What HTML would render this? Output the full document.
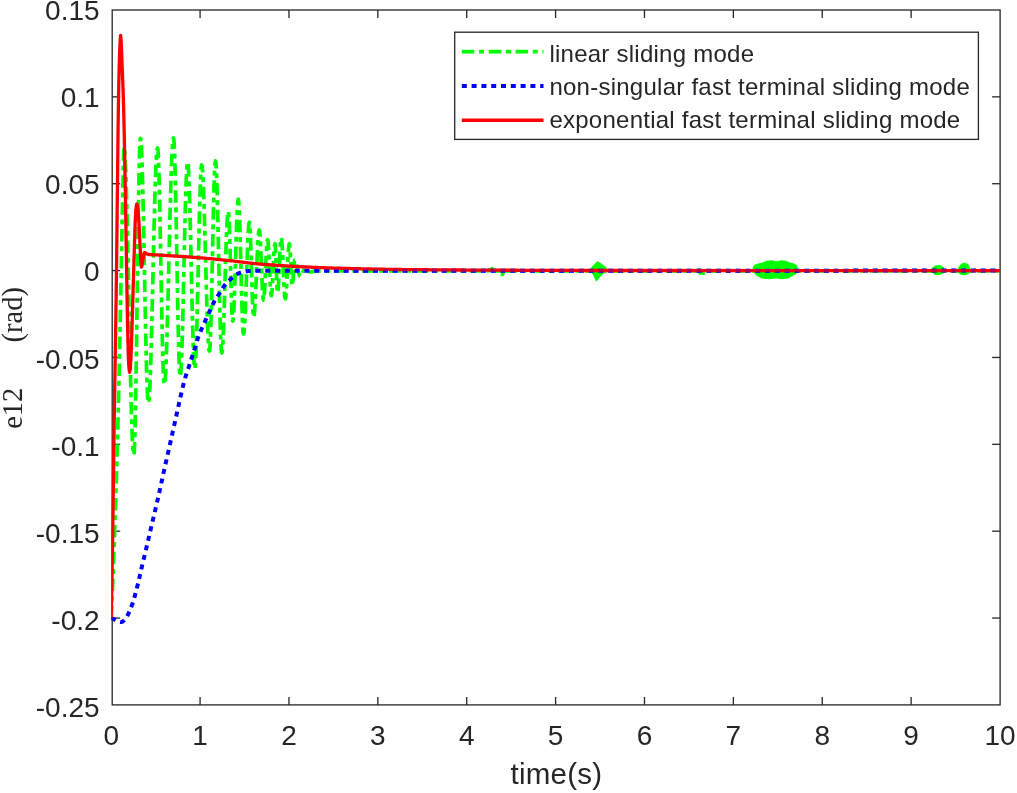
<!DOCTYPE html>
<html><head><meta charset="utf-8"><title>e12</title>
<style>
html,body{margin:0;padding:0;background:#fff;}
svg{display:block;}
.wrap{width:1017px;height:793px;}
text{font-family:"Liberation Sans",Arial,sans-serif;fill:#262626;}
.t{font-size:28px;}
.lg{font-size:24px;letter-spacing:0.25px;}
</style></head><body><div class="wrap">
<svg width="1017" height="793" viewBox="0 0 1017 793">
<rect x="0" y="0" width="1017" height="793" fill="#fff"/>

<rect x="111.2" y="10.0" width="888.8" height="694.9" fill="#fff"/>
<g stroke="#262626" stroke-width="1.3" fill="none">
<rect x="112.2" y="10.0" width="887.90" height="694.9"/>
<line x1="200.08" y1="704.9" x2="200.08" y2="696.9"/><line x1="200.08" y1="10.0" x2="200.08" y2="18.0"/>
<line x1="288.96" y1="704.9" x2="288.96" y2="696.9"/><line x1="288.96" y1="10.0" x2="288.96" y2="18.0"/>
<line x1="377.84" y1="704.9" x2="377.84" y2="696.9"/><line x1="377.84" y1="10.0" x2="377.84" y2="18.0"/>
<line x1="466.72" y1="704.9" x2="466.72" y2="696.9"/><line x1="466.72" y1="10.0" x2="466.72" y2="18.0"/>
<line x1="555.60" y1="704.9" x2="555.60" y2="696.9"/><line x1="555.60" y1="10.0" x2="555.60" y2="18.0"/>
<line x1="644.48" y1="704.9" x2="644.48" y2="696.9"/><line x1="644.48" y1="10.0" x2="644.48" y2="18.0"/>
<line x1="733.36" y1="704.9" x2="733.36" y2="696.9"/><line x1="733.36" y1="10.0" x2="733.36" y2="18.0"/>
<line x1="822.24" y1="704.9" x2="822.24" y2="696.9"/><line x1="822.24" y1="10.0" x2="822.24" y2="18.0"/>
<line x1="911.12" y1="704.9" x2="911.12" y2="696.9"/><line x1="911.12" y1="10.0" x2="911.12" y2="18.0"/>
<line x1="112.2" y1="96.86" x2="120.2" y2="96.86"/><line x1="1000.1" y1="96.86" x2="992.1" y2="96.86"/>
<line x1="112.2" y1="183.72" x2="120.2" y2="183.72"/><line x1="1000.1" y1="183.72" x2="992.1" y2="183.72"/>
<line x1="112.2" y1="270.59" x2="120.2" y2="270.59"/><line x1="1000.1" y1="270.59" x2="992.1" y2="270.59"/>
<line x1="112.2" y1="357.45" x2="120.2" y2="357.45"/><line x1="1000.1" y1="357.45" x2="992.1" y2="357.45"/>
<line x1="112.2" y1="444.31" x2="120.2" y2="444.31"/><line x1="1000.1" y1="444.31" x2="992.1" y2="444.31"/>
<line x1="112.2" y1="531.18" x2="120.2" y2="531.18"/><line x1="1000.1" y1="531.18" x2="992.1" y2="531.18"/>
<line x1="112.2" y1="618.04" x2="120.2" y2="618.04"/><line x1="1000.1" y1="618.04" x2="992.1" y2="618.04"/>
</g>
<clipPath id="cp"><rect x="111.2" y="10.0" width="888.8" height="694.9"/></clipPath>
<g clip-path="url(#cp)" fill="none" stroke-linejoin="round">
<path d="M111.20,618.00 L111.31,615.63 L111.41,613.27 L111.51,610.90 L111.62,608.53 L111.72,606.17 L111.82,603.80 L111.92,601.43 L112.02,599.07 L112.13,596.70 L112.23,594.33 L112.32,591.96 L112.42,589.60 L112.52,587.23 L112.62,584.86 L112.71,582.50 L112.81,580.13 L112.91,577.76 L113.00,575.40 L113.09,573.03 L113.19,570.66 L113.28,568.30 L113.37,565.93 L113.46,563.56 L113.55,561.20 L113.64,558.83 L113.73,556.46 L113.82,554.10 L113.91,551.73 L114.00,549.36 L114.08,546.99 L114.17,544.63 L114.26,542.26 L114.34,539.89 L114.43,537.53 L114.51,535.16 L114.59,532.79 L114.68,530.43 L114.76,528.06 L114.84,525.69 L114.92,523.33 L115.00,520.96 L115.09,518.59 L115.17,516.23 L115.24,513.86 L115.32,511.49 L115.40,509.13 L115.48,506.76 L115.56,504.39 L115.63,502.03 L115.71,499.66 L115.79,497.29 L115.86,494.92 L115.94,492.56 L116.01,490.19 L116.09,487.82 L116.16,485.46 L116.23,483.09 L116.30,480.72 L116.37,478.36 L116.45,475.99 L116.52,473.62 L116.59,471.26 L116.66,468.89 L116.73,466.52 L116.80,464.16 L116.86,461.79 L116.93,459.42 L117.00,457.06 L117.07,454.69 L117.13,452.32 L117.20,449.95 L117.27,447.59 L117.33,445.22 L117.40,442.85 L117.46,440.49 L117.53,438.12 L117.59,435.75 L117.66,433.39 L117.72,431.02 L117.78,428.65 L117.84,426.29 L117.90,423.92 L117.96,421.55 L118.02,419.19 L118.08,416.82 L118.14,414.45 L118.19,412.09 L118.25,409.72 L118.31,407.35 L118.36,404.98 L118.42,402.62 L118.47,400.25 L118.53,397.88 L118.58,395.52 L118.64,393.15 L118.69,390.78 L118.75,388.42 L118.80,386.05 L118.85,383.68 L118.91,381.32 L118.96,378.95 L119.01,376.58 L119.06,374.22 L119.12,371.85 L119.17,369.48 L119.22,367.12 L119.27,364.75 L119.32,362.38 L119.37,360.02 L119.42,357.65 L119.47,355.28 L119.53,352.91 L119.58,350.55 L119.63,348.18 L119.68,345.81 L119.73,343.45 L119.78,341.08 L119.83,338.71 L119.88,336.35 L119.93,333.98 L119.98,331.61 L120.02,329.25 L120.07,326.88 L120.12,324.51 L120.17,322.15 L120.22,319.78 L120.26,317.41 L120.31,315.05 L120.36,312.68 L120.41,310.31 L120.45,307.94 L120.50,305.58 L120.55,303.21 L120.59,300.84 L120.64,298.48 L120.68,296.11 L120.73,293.74 L120.78,291.38 L120.82,289.01 L120.87,286.64 L120.92,284.28 L120.96,281.91 L121.01,279.54 L121.06,277.18 L121.10,274.81 L121.15,272.44 L121.20,270.08 L121.25,267.71 L121.29,265.34 L121.34,262.97 L121.39,260.61 L121.43,258.24 L121.48,255.87 L121.53,253.51 L121.57,251.14 L121.62,248.77 L121.66,246.41 L121.71,244.04 L121.76,241.67 L121.80,239.31 L121.85,236.94 L121.90,234.57 L121.94,232.21 L121.99,229.84 L122.04,227.47 L122.08,225.11 L122.13,222.74 L122.18,220.37 L122.23,218.01 L122.27,215.64 L122.32,213.27 L122.37,210.90 L122.42,208.54 L122.47,206.17 L122.52,203.80 L122.57,201.44 L122.62,199.07 L122.67,196.70 L122.72,194.34 L122.77,191.97 L122.82,189.60 L122.87,187.24 L122.92,184.87 L122.98,182.50 L123.03,180.14 L123.08,177.77 L123.14,175.40 L123.20,173.04 L123.25,170.67 L123.31,168.30 L123.38,165.93 L123.44,163.57 L123.51,161.20 L123.58,158.83 L123.65,156.47 L123.73,154.10 L123.81,151.73 L123.90,149.37 L124.00,147.00 L124.25,147.50 L124.50,148.99 L124.75,151.47 L125.01,154.93 L125.26,159.32 L125.51,164.64 L125.76,170.84 L126.01,177.89 L126.26,185.73 L126.51,194.32 L126.76,203.60 L127.02,213.52 L127.27,224.00 L127.52,234.98 L127.77,246.39 L128.02,258.15 L128.27,270.20 L128.52,282.44 L128.77,294.80 L129.03,307.20 L129.28,319.56 L129.53,331.80 L129.78,343.85 L130.03,355.61 L130.28,367.02 L130.53,378.00 L130.78,388.48 L131.04,398.40 L131.29,407.68 L131.54,416.27 L131.79,424.11 L132.04,431.16 L132.29,437.36 L132.54,442.68 L132.79,447.07 L133.05,450.53 L133.30,453.01 L133.55,454.50 L133.80,455.00 L134.06,453.85 L134.32,450.40 L134.57,444.72 L134.83,436.87 L135.09,426.99 L135.35,415.20 L135.60,401.69 L135.86,386.65 L136.12,370.29 L136.38,352.87 L136.63,334.62 L136.89,315.82 L137.15,296.75 L137.41,277.68 L137.67,258.88 L137.92,240.63 L138.18,223.21 L138.44,206.85 L138.70,191.81 L138.95,178.30 L139.21,166.51 L139.47,156.63 L139.73,148.78 L139.98,143.10 L140.24,139.65 L140.50,138.50 L140.75,139.18 L141.01,141.21 L141.26,144.57 L141.52,149.22 L141.77,155.12 L142.03,162.20 L142.28,170.40 L142.54,179.63 L142.79,189.80 L143.05,200.79 L143.30,212.51 L143.56,224.82 L143.81,237.60 L144.07,250.72 L144.32,264.05 L144.58,277.45 L144.83,290.78 L145.09,303.90 L145.34,316.68 L145.60,328.99 L145.85,340.71 L146.11,351.70 L146.36,361.87 L146.62,371.10 L146.87,379.30 L147.13,386.38 L147.38,392.28 L147.64,396.93 L147.89,400.29 L148.15,402.32 L148.40,403.00 L148.65,402.51 L148.91,401.06 L149.16,398.66 L149.41,395.31 L149.66,391.05 L149.92,385.92 L150.17,379.94 L150.42,373.17 L150.68,365.66 L150.93,357.46 L151.18,348.63 L151.43,339.25 L151.69,329.38 L151.94,319.11 L152.19,308.50 L152.44,297.64 L152.70,286.61 L152.95,275.50 L153.20,264.39 L153.46,253.36 L153.71,242.50 L153.96,231.89 L154.21,221.62 L154.47,211.75 L154.72,202.37 L154.97,193.54 L155.22,185.34 L155.48,177.83 L155.73,171.06 L155.98,165.08 L156.24,159.95 L156.49,155.69 L156.74,152.34 L156.99,149.94 L157.25,148.49 L157.50,148.00 L157.75,148.80 L158.00,151.19 L158.26,155.13 L158.51,160.58 L158.76,167.45 L159.01,175.67 L159.26,185.10 L159.51,195.64 L159.77,207.12 L160.02,219.41 L160.27,232.34 L160.52,245.72 L160.77,259.37 L161.03,273.13 L161.28,286.78 L161.53,300.16 L161.78,313.09 L162.03,325.38 L162.29,336.86 L162.54,347.40 L162.79,356.83 L163.04,365.05 L163.29,371.92 L163.54,377.37 L163.80,381.31 L164.05,383.70 L164.30,384.50 L164.56,384.03 L164.81,382.63 L165.07,380.30 L165.32,377.07 L165.58,372.95 L165.83,367.99 L166.09,362.21 L166.34,355.66 L166.60,348.40 L166.86,340.47 L167.11,331.94 L167.37,322.88 L167.62,313.34 L167.88,303.40 L168.13,293.15 L168.39,282.65 L168.64,271.99 L168.90,261.25 L169.16,250.51 L169.41,239.85 L169.67,229.35 L169.92,219.10 L170.18,209.16 L170.43,199.63 L170.69,190.56 L170.94,182.03 L171.20,174.10 L171.46,166.84 L171.71,160.29 L171.97,154.51 L172.22,149.55 L172.48,145.43 L172.73,142.20 L172.99,139.87 L173.24,138.47 L173.50,138.00 L173.76,138.87 L174.02,141.47 L174.27,145.75 L174.53,151.67 L174.79,159.12 L175.05,168.00 L175.30,178.19 L175.56,189.53 L175.82,201.86 L176.08,215.00 L176.33,228.75 L176.59,242.92 L176.85,257.30 L177.11,271.68 L177.37,285.85 L177.62,299.60 L177.88,312.74 L178.14,325.07 L178.40,336.41 L178.65,346.60 L178.91,355.48 L179.17,362.93 L179.43,368.85 L179.68,373.13 L179.94,375.73 L180.20,376.60 L180.46,375.97 L180.71,374.09 L180.97,370.98 L181.22,366.68 L181.48,361.24 L181.73,354.72 L181.99,347.20 L182.24,338.76 L182.50,329.52 L182.75,319.56 L183.01,309.02 L183.26,298.01 L183.52,286.66 L183.77,275.11 L184.03,263.49 L184.28,251.94 L184.54,240.59 L184.79,229.58 L185.05,219.04 L185.30,209.08 L185.56,199.84 L185.81,191.40 L186.07,183.88 L186.32,177.36 L186.58,171.92 L186.83,167.62 L187.09,164.51 L187.34,162.63 L187.60,162.00 L187.86,162.65 L188.11,164.59 L188.37,167.80 L188.63,172.23 L188.89,177.83 L189.14,184.54 L189.40,192.26 L189.66,200.89 L189.91,210.34 L190.17,220.48 L190.43,231.18 L190.69,242.31 L190.94,253.73 L191.20,265.30 L191.46,276.87 L191.71,288.29 L191.97,299.42 L192.23,310.12 L192.49,320.26 L192.74,329.71 L193.00,338.34 L193.26,346.06 L193.51,352.77 L193.77,358.37 L194.03,362.80 L194.29,366.01 L194.54,367.95 L194.80,368.60 L195.06,367.91 L195.31,365.86 L195.57,362.46 L195.82,357.77 L196.08,351.85 L196.33,344.78 L196.59,336.66 L196.84,327.59 L197.10,317.70 L197.36,307.12 L197.61,296.00 L197.87,284.48 L198.12,272.72 L198.38,260.88 L198.63,249.12 L198.89,237.60 L199.14,226.48 L199.40,215.90 L199.66,206.01 L199.91,196.94 L200.17,188.82 L200.42,181.75 L200.68,175.83 L200.93,171.14 L201.19,167.74 L201.44,165.69 L201.70,165.00 L201.96,165.51 L202.21,167.03 L202.47,169.55 L202.73,173.04 L202.98,177.46 L203.24,182.76 L203.50,188.89 L203.75,195.77 L204.01,203.34 L204.27,211.50 L204.52,220.17 L204.78,229.26 L205.04,238.66 L205.29,248.28 L205.55,258.00 L205.81,267.72 L206.06,277.34 L206.32,286.74 L206.58,295.83 L206.83,304.50 L207.09,312.66 L207.35,320.23 L207.60,327.11 L207.86,333.24 L208.12,338.54 L208.37,342.96 L208.63,346.45 L208.89,348.97 L209.14,350.49 L209.40,351.00 L209.65,350.19 L209.91,347.76 L210.16,343.77 L210.42,338.27 L210.67,331.37 L210.93,323.18 L211.18,313.83 L211.43,303.50 L211.69,292.35 L211.94,280.59 L212.20,268.40 L212.45,256.00 L212.70,243.60 L212.96,231.41 L213.21,219.65 L213.47,208.50 L213.72,198.17 L213.97,188.82 L214.23,180.63 L214.48,173.73 L214.74,168.23 L214.99,164.24 L215.25,161.81 L215.50,161.00 L215.75,161.76 L216.00,164.02 L216.26,167.74 L216.51,172.87 L216.76,179.33 L217.01,187.02 L217.26,195.81 L217.52,205.56 L217.77,216.13 L218.02,227.33 L218.27,239.01 L218.52,250.97 L218.78,263.03 L219.03,274.99 L219.28,286.67 L219.53,297.87 L219.78,308.44 L220.04,318.19 L220.29,326.98 L220.54,334.67 L220.79,341.13 L221.04,346.26 L221.30,349.98 L221.55,352.24 L221.80,353.00 L222.06,352.44 L222.31,350.77 L222.57,348.02 L222.82,344.24 L223.08,339.47 L223.34,333.80 L223.59,327.31 L223.85,320.11 L224.10,312.32 L224.36,304.04 L224.62,295.43 L224.87,286.60 L225.13,277.70 L225.38,268.87 L225.64,260.26 L225.90,251.98 L226.15,244.19 L226.41,236.99 L226.66,230.50 L226.92,224.83 L227.18,220.06 L227.43,216.28 L227.69,213.53 L227.94,211.86 L228.20,211.30 L228.46,212.13 L228.71,214.61 L228.97,218.65 L229.22,224.13 L229.48,230.89 L229.73,238.72 L229.99,247.39 L230.24,256.63 L230.50,266.15 L230.76,275.67 L231.01,284.91 L231.27,293.57 L231.52,301.41 L231.78,308.17 L232.03,313.65 L232.29,317.69 L232.54,320.17 L232.80,321.00 L233.05,320.38 L233.30,318.53 L233.55,315.50 L233.80,311.33 L234.05,306.13 L234.30,299.98 L234.55,293.03 L234.80,285.40 L235.05,277.26 L235.30,268.77 L235.55,260.10 L235.80,251.43 L236.05,242.94 L236.30,234.80 L236.55,227.17 L236.80,220.22 L237.05,214.07 L237.30,208.87 L237.55,204.70 L237.80,201.67 L238.05,199.82 L238.30,199.20 L238.56,200.03 L238.82,202.50 L239.08,206.55 L239.34,212.07 L239.60,218.94 L239.86,226.98 L240.12,236.00 L240.38,245.77 L240.64,256.06 L240.90,266.60 L241.16,277.14 L241.42,287.43 L241.68,297.20 L241.94,306.22 L242.20,314.26 L242.46,321.13 L242.72,326.65 L242.98,330.70 L243.24,333.17 L243.50,334.00 L243.76,333.48 L244.01,331.93 L244.27,329.38 L244.53,325.87 L244.78,321.47 L245.04,316.27 L245.30,310.36 L245.55,303.84 L245.81,296.85 L246.07,289.51 L246.32,281.96 L246.58,274.34 L246.83,266.79 L247.09,259.45 L247.35,252.46 L247.60,245.94 L247.86,240.03 L248.12,234.83 L248.37,230.43 L248.63,226.92 L248.89,224.37 L249.14,222.82 L249.40,222.30 L249.66,223.21 L249.93,225.92 L250.19,230.31 L250.45,236.23 L250.71,243.43 L250.97,251.65 L251.24,260.57 L251.50,269.85 L251.76,279.13 L252.03,288.05 L252.29,296.27 L252.55,303.47 L252.81,309.39 L253.07,313.78 L253.34,316.49 L253.60,317.40 L253.86,316.96 L254.12,315.63 L254.38,313.45 L254.64,310.46 L254.90,306.73 L255.15,302.32 L255.41,297.33 L255.67,291.85 L255.93,286.01 L256.19,279.92 L256.45,273.70 L256.71,267.48 L256.97,261.39 L257.23,255.55 L257.49,250.07 L257.75,245.08 L258.00,240.67 L258.26,236.94 L258.52,233.95 L258.78,231.77 L259.04,230.44 L259.30,230.00 L259.56,230.67 L259.82,232.66 L260.09,235.90 L260.35,240.25 L260.61,245.56 L260.88,251.61 L261.14,258.17 L261.40,265.00 L261.66,271.83 L261.93,278.39 L262.19,284.44 L262.45,289.75 L262.71,294.10 L262.98,297.34 L263.24,299.33 L263.50,300.00 L263.76,299.42 L264.01,297.70 L264.27,294.91 L264.52,291.15 L264.78,286.58 L265.04,281.36 L265.29,275.69 L265.55,269.80 L265.81,263.91 L266.06,258.24 L266.32,253.02 L266.58,248.45 L266.83,244.69 L267.09,241.90 L267.34,240.18 L267.60,239.60 L267.86,240.30 L268.13,242.38 L268.39,245.72 L268.66,250.16 L268.92,255.48 L269.19,261.41 L269.45,267.65 L269.71,273.89 L269.98,279.82 L270.24,285.14 L270.51,289.58 L270.77,292.92 L271.04,295.00 L271.30,295.70 L271.56,295.05 L271.83,293.13 L272.09,290.03 L272.36,285.91 L272.62,280.98 L272.89,275.49 L273.15,269.70 L273.41,263.91 L273.68,258.42 L273.94,253.49 L274.21,249.37 L274.47,246.27 L274.74,244.35 L275.00,243.70 L275.25,244.90 L275.50,248.38 L275.75,253.80 L276.00,260.63 L276.25,268.20 L276.50,275.77 L276.75,282.60 L277.00,288.02 L277.25,291.50 L277.50,292.70 L277.76,292.01 L278.03,289.98 L278.29,286.70 L278.56,282.35 L278.82,277.13 L279.09,271.32 L279.35,265.20 L279.61,259.08 L279.88,253.27 L280.14,248.05 L280.41,243.70 L280.67,240.42 L280.94,238.39 L281.20,237.70 L281.46,238.29 L281.71,240.02 L281.97,242.84 L282.23,246.63 L282.48,251.26 L282.74,256.53 L282.99,262.25 L283.25,268.20 L283.51,274.15 L283.76,279.87 L284.02,285.14 L284.27,289.77 L284.53,293.56 L284.79,296.38 L285.04,298.11 L285.30,298.70 L285.55,298.17 L285.80,296.61 L286.05,294.07 L286.30,290.65 L286.55,286.48 L286.80,281.72 L287.05,276.56 L287.30,271.20 L287.55,265.84 L287.80,260.68 L288.05,255.92 L288.30,251.75 L288.55,248.33 L288.80,245.79 L289.05,244.23 L289.30,243.70 L289.55,244.41 L289.80,246.51 L290.05,249.84 L290.30,254.17 L290.55,259.23 L290.80,264.65 L291.05,270.07 L291.30,275.12 L291.55,279.46 L291.80,282.79 L292.05,284.89 L292.30,285.60 L292.56,284.84 L292.81,282.65 L293.07,279.30 L293.32,275.19 L293.58,270.81 L293.83,266.70 L294.09,263.35 L294.34,261.16 L294.60,260.40 L294.85,260.47 L295.10,260.70 L295.36,261.07 L295.61,261.57 L295.86,262.21 L296.11,262.96 L296.37,263.81 L296.62,264.75 L296.87,265.75 L297.12,266.81 L297.37,267.90 L297.63,269.00 L297.88,270.09 L298.13,271.15 L298.38,272.15 L298.63,273.09 L298.89,273.94 L299.14,274.69 L299.39,275.33 L299.64,275.83 L299.90,276.20 L300.15,276.43 L300.40,276.50 L300.66,276.44 L300.91,276.26 L301.17,275.96 L301.42,275.56 L301.68,275.07 L301.93,274.50 L302.19,273.87 L302.44,273.19 L302.70,272.50 L302.96,271.81 L303.21,271.13 L303.47,270.50 L303.72,269.93 L303.98,269.44 L304.23,269.04 L304.49,268.74 L304.74,268.56 L305.00,268.50 L305.25,268.52 L305.50,268.59 L305.75,268.69 L306.00,268.83 L306.25,269.01 L306.50,269.22 L306.75,269.46 L307.00,269.71 L307.25,269.98 L307.50,270.25 L307.75,270.52 L308.00,270.79 L308.25,271.04 L308.50,271.28 L308.75,271.49 L309.00,271.67 L309.25,271.81 L309.50,271.91 L309.75,271.98 L310.00,272.00 L310.25,272.00 L310.50,271.98 L310.75,271.96 L311.00,271.93 L311.25,271.89 L311.50,271.84 L311.75,271.78 L312.00,271.73 L312.25,271.66 L312.50,271.59 L312.75,271.52 L313.00,271.45 L313.25,271.38 L313.50,271.31 L313.75,271.24 L314.00,271.18 L314.25,271.12 L314.50,271.06 L314.75,271.01 L315.00,270.97 L315.25,270.94 L315.50,270.92 L315.75,270.90 L316.00,270.90 L316.25,270.90 L316.50,270.90 L316.75,270.90 L317.00,270.90 L317.25,270.90 L317.50,270.90 L317.75,270.90 L318.00,270.90 L318.25,270.90 L318.50,270.90 L318.75,270.90 L319.00,270.90 L319.25,270.90 L319.50,270.90 L319.75,270.90 L320.00,270.90 L320.25,270.90 L320.50,270.90 L320.75,270.90 L321.00,270.90 L321.25,270.90 L321.50,270.90 L321.75,270.90 L322.00,270.90 L322.25,270.90 L322.50,270.90 L322.75,270.90 L323.00,270.90 L323.25,270.90 L323.50,270.90 L323.75,270.90 L324.00,270.90 L324.25,270.90 L324.50,270.90 L324.75,270.90 L325.00,270.90 L325.25,270.90 L325.50,270.90 L325.75,270.90 L326.00,270.90 L326.25,270.90 L326.50,270.90 L326.75,270.90 L327.00,270.90 L327.25,270.90 L327.50,270.90 L327.75,270.90 L328.00,270.90 L328.25,270.90 L328.50,270.90 L328.75,270.90 L329.00,270.90 L329.25,270.90 L329.50,270.90 L329.75,270.90 L330.00,270.90 L330.25,270.90 L330.50,270.90 L330.75,270.90 L331.00,270.90 L331.25,270.90 L331.50,270.90 L331.75,270.90 L332.00,270.90 L332.25,270.90 L332.50,270.90 L332.75,270.90 L333.00,270.90 L333.25,270.90 L333.50,270.90 L333.75,270.90 L334.00,270.90 L334.25,270.90 L334.50,270.90 L334.75,270.90 L335.00,270.90 L335.25,270.90 L335.50,270.90 L335.75,270.90 L336.00,270.90 L336.25,270.90 L336.50,270.90 L336.75,270.90 L337.00,270.90 L337.25,270.90 L337.50,270.90 L337.75,270.90 L338.00,270.90 L338.25,270.90 L338.50,270.90 L338.75,270.90 L339.00,270.90 L339.25,270.90 L339.50,270.90 L339.75,270.90 L340.00,270.90 L340.25,270.90 L340.50,270.90 L340.75,270.90 L341.00,270.90 L341.25,270.90 L341.50,270.90 L341.75,270.90 L342.00,270.90 L342.25,270.90 L342.50,270.90 L342.75,270.90 L343.00,270.90 L343.25,270.90 L343.50,270.90 L343.75,270.90 L344.00,270.90 L344.25,270.90 L344.50,270.90 L344.75,270.90 L345.00,270.90 L345.25,270.90 L345.50,270.90 L345.75,270.90 L346.00,270.90 L346.25,270.90 L346.50,270.90 L346.75,270.90 L347.00,270.90 L347.25,270.90 L347.50,270.90 L347.75,270.90 L348.00,270.90 L348.25,270.90 L348.50,270.90 L348.75,270.90 L349.00,270.90 L349.25,270.90 L349.50,270.90 L349.75,270.90 L350.00,270.90 L350.25,270.90 L350.50,270.90 L350.75,270.90 L351.00,270.90 L351.25,270.90 L351.50,270.90 L351.75,270.90 L352.00,270.90 L352.25,270.90 L352.50,270.90 L352.75,270.90 L353.00,270.90 L353.25,270.90 L353.50,270.90 L353.75,270.90 L354.00,270.90 L354.25,270.90 L354.50,270.90 L354.75,270.90 L355.00,270.90 L355.25,270.90 L355.50,270.90 L355.75,270.90 L356.00,270.90 L356.25,270.90 L356.50,270.90 L356.75,270.90 L357.00,270.90 L357.25,270.90 L357.50,270.90 L357.75,270.90 L358.00,270.90 L358.25,270.90 L358.50,270.90 L358.75,270.90 L359.00,270.90 L359.25,270.90 L359.50,270.90 L359.75,270.90 L360.00,270.90 L360.25,270.90 L360.50,270.90 L360.75,270.90 L361.00,270.90 L361.25,270.90 L361.50,270.90 L361.75,270.90 L362.00,270.90 L362.25,270.90 L362.50,270.90 L362.75,270.90 L363.00,270.90 L363.25,270.90 L363.50,270.90 L363.75,270.90 L364.00,270.90 L364.25,270.90 L364.50,270.90 L364.75,270.90 L365.00,270.90 L365.25,270.90 L365.50,270.90 L365.75,270.90 L366.00,270.90 L366.25,270.90 L366.50,270.90 L366.75,270.90 L367.00,270.90 L367.25,270.90 L367.50,270.90 L367.75,270.90 L368.00,270.90 L368.25,270.90 L368.50,270.90 L368.75,270.90 L369.00,270.90 L369.25,270.90 L369.50,270.90 L369.75,270.90 L370.00,270.90 L370.25,270.90 L370.50,270.90 L370.75,270.90 L371.00,270.90 L371.25,270.90 L371.50,270.90 L371.75,270.90 L372.00,270.90 L372.25,270.90 L372.50,270.90 L372.75,270.90 L373.00,270.90 L373.25,270.90 L373.50,270.90 L373.75,270.90 L374.00,270.90 L374.25,270.90 L374.50,270.90 L374.75,270.90 L375.00,270.90 L375.25,270.90 L375.50,270.90 L375.75,270.90 L376.00,270.90 L376.25,270.90 L376.50,270.90 L376.75,270.90 L377.00,270.90 L377.25,270.90 L377.50,270.90 L377.75,270.90 L378.00,270.90 L378.25,270.90 L378.50,270.90 L378.75,270.90 L379.00,270.90 L379.25,270.90 L379.50,270.90 L379.75,270.90 L380.00,270.90 L380.25,270.90 L380.50,270.90 L380.75,270.90 L381.00,270.90 L381.25,270.90 L381.50,270.90 L381.75,270.90 L382.00,270.90 L382.25,270.90 L382.50,270.90 L382.75,270.90 L383.00,270.90 L383.25,270.90 L383.50,270.90 L383.75,270.90 L384.00,270.90 L384.25,270.90 L384.50,270.90 L384.75,270.90 L385.00,270.90 L385.25,270.90 L385.50,270.90 L385.75,270.90 L386.00,270.90 L386.25,270.90 L386.50,270.90 L386.75,270.90 L387.00,270.90 L387.25,270.90 L387.50,270.90 L387.75,270.90 L388.00,270.90 L388.25,270.90 L388.50,270.90 L388.75,270.90 L389.00,270.90 L389.25,270.90 L389.50,270.90 L389.75,270.90 L390.00,270.90 L390.25,270.90 L390.50,270.90 L390.75,270.90 L391.00,270.90 L391.25,270.90 L391.50,270.90 L391.75,270.90 L392.00,270.90 L392.25,270.90 L392.50,270.90 L392.75,270.90 L393.00,270.90 L393.25,270.90 L393.50,270.90 L393.75,270.90 L394.00,270.90 L394.25,270.90 L394.50,270.90 L394.75,270.90 L395.00,270.90 L395.25,270.90 L395.50,270.90 L395.75,270.90 L396.00,270.90 L396.25,270.90 L396.50,270.90 L396.75,270.90 L397.00,270.90 L397.25,270.90 L397.50,270.90 L397.75,270.90 L398.00,270.90 L398.25,270.90 L398.50,270.90 L398.75,270.90 L399.00,270.90 L399.25,270.90 L399.50,270.90 L399.75,270.90 L400.00,270.90 L400.25,270.90 L400.50,270.90 L400.75,270.90 L401.00,270.90 L401.25,270.90 L401.50,270.90 L401.75,270.90 L402.00,270.90 L402.25,270.90 L402.50,270.90 L402.75,270.90 L403.00,270.90 L403.25,270.90 L403.50,270.90 L403.75,270.90 L404.00,270.90 L404.25,270.90 L404.50,270.90 L404.75,270.90 L405.00,270.90 L405.25,270.90 L405.50,270.90 L405.75,270.90 L406.00,270.90 L406.25,270.90 L406.50,270.90 L406.75,270.90 L407.00,270.90 L407.25,270.90 L407.50,270.90 L407.75,270.90 L408.00,270.90 L408.25,270.90 L408.50,270.90 L408.75,270.90 L409.00,270.90 L409.25,270.90 L409.50,270.90 L409.75,270.90 L410.00,270.90 L410.25,270.90 L410.50,270.90 L410.75,270.90 L411.00,270.90 L411.25,270.90 L411.50,270.90 L411.75,270.90 L412.00,270.90 L412.25,270.90 L412.50,270.90 L412.75,270.90 L413.00,270.90 L413.25,270.90 L413.50,270.90 L413.75,270.90 L414.00,270.90 L414.25,270.90 L414.50,270.90 L414.75,270.90 L415.00,270.90 L415.25,270.90 L415.50,270.90 L415.75,270.90 L416.00,270.90 L416.25,270.90 L416.50,270.90 L416.75,270.90 L417.00,270.90 L417.25,270.90 L417.50,270.90 L417.75,270.90 L418.00,270.90 L418.25,270.90 L418.50,270.90 L418.75,270.90 L419.00,270.90 L419.25,270.90 L419.50,270.90 L419.75,270.90 L420.00,270.90 L420.25,270.90 L420.50,270.90 L420.75,270.90 L421.00,270.90 L421.25,270.90 L421.50,270.90 L421.75,270.90 L422.00,270.90 L422.25,270.90 L422.50,270.90 L422.75,270.90 L423.00,270.90 L423.25,270.90 L423.50,270.90 L423.75,270.90 L424.00,270.90 L424.25,270.90 L424.50,270.90 L424.75,270.90 L425.00,270.90 L425.25,270.90 L425.50,270.90 L425.75,270.90 L426.00,270.90 L426.25,270.90 L426.50,270.90 L426.75,270.90 L427.00,270.90 L427.25,270.90 L427.50,270.90 L427.75,270.90 L428.00,270.90 L428.25,270.90 L428.50,270.90 L428.75,270.90 L429.00,270.90 L429.25,270.90 L429.50,270.90 L429.75,270.90 L430.00,270.90 L430.25,270.90 L430.50,270.90 L430.75,270.90 L431.00,270.90 L431.25,270.90 L431.50,270.90 L431.75,270.90 L432.00,270.90 L432.25,270.90 L432.50,270.90 L432.75,270.90 L433.00,270.90 L433.25,270.90 L433.50,270.90 L433.75,270.90 L434.00,270.90 L434.25,270.90 L434.50,270.90 L434.75,270.90 L435.00,270.90 L435.25,270.90 L435.50,270.90 L435.75,270.90 L436.00,270.90 L436.25,270.90 L436.50,270.90 L436.75,270.90 L437.00,270.90 L437.25,270.90 L437.50,270.90 L437.75,270.90 L438.00,270.90 L438.25,270.90 L438.50,270.90 L438.75,270.90 L439.00,270.90 L439.25,270.90 L439.50,270.90 L439.75,270.90 L440.00,270.90 L440.25,270.90 L440.50,270.90 L440.75,270.90 L441.00,270.90 L441.25,270.90 L441.50,270.90 L441.75,270.90 L442.00,270.90 L442.25,270.90 L442.50,270.90 L442.75,270.90 L443.00,270.90 L443.25,270.90 L443.50,270.90 L443.75,270.90 L444.00,270.90 L444.25,270.90 L444.50,270.90 L444.75,270.90 L445.00,270.90 L445.25,270.90 L445.50,270.90 L445.75,270.90 L446.00,270.90 L446.25,270.90 L446.50,270.90 L446.75,270.90 L447.00,270.90 L447.25,270.90 L447.50,270.90 L447.75,270.90 L448.00,270.90 L448.25,270.90 L448.50,270.90 L448.75,270.90 L449.00,270.90 L449.25,270.90 L449.50,270.90 L449.75,270.90 L450.00,270.90 L450.25,270.90 L450.50,270.90 L450.75,270.90 L451.00,270.90 L451.25,270.90 L451.50,270.90 L451.75,270.90 L452.00,270.90 L452.25,270.90 L452.50,270.90 L452.75,270.90 L453.00,270.90 L453.25,270.90 L453.50,270.90 L453.75,270.90 L454.00,270.90 L454.25,270.90 L454.50,270.90 L454.75,270.90 L455.00,270.90 L455.25,270.90 L455.50,270.90 L455.75,270.90 L456.00,270.90 L456.25,270.90 L456.50,270.90 L456.75,270.90 L457.00,270.90 L457.25,270.90 L457.50,270.90 L457.75,270.90 L458.00,270.90 L458.25,270.90 L458.50,270.90 L458.75,270.90 L459.00,270.90 L459.25,270.90 L459.50,270.90 L459.75,270.90 L460.00,270.90 L460.25,270.90 L460.50,270.90 L460.75,270.90 L461.00,270.90 L461.25,270.90 L461.50,270.90 L461.75,270.90 L462.00,270.90 L462.25,270.90 L462.50,270.90 L462.75,270.90 L463.00,270.90 L463.25,270.90 L463.50,270.90 L463.75,270.90 L464.00,270.90 L464.25,270.90 L464.50,270.90 L464.75,270.90 L465.00,270.90 L465.25,270.90 L465.50,270.90 L465.75,270.90 L466.00,270.90 L466.25,270.90 L466.50,270.90 L466.75,270.90 L467.00,270.90 L467.25,270.90 L467.50,270.90 L467.75,270.90 L468.00,270.90 L468.25,270.90 L468.50,270.90 L468.75,270.90 L469.00,270.90 L469.25,270.90 L469.50,270.90 L469.75,270.90 L470.00,270.90 L470.25,270.90 L470.50,270.90 L470.75,270.90 L471.00,270.90 L471.25,270.90 L471.50,270.90 L471.75,270.90 L472.00,270.90 L472.25,270.90 L472.50,270.90 L472.75,270.90 L473.00,270.90 L473.25,270.90 L473.50,270.90 L473.75,270.90 L474.00,270.90 L474.25,270.90 L474.50,270.90 L474.75,270.90 L475.00,270.90 L475.25,270.90 L475.50,270.90 L475.75,270.90 L476.00,270.90 L476.25,270.90 L476.50,270.90 L476.75,270.90 L477.00,270.90 L477.25,270.90 L477.50,270.90 L477.75,270.90 L478.00,270.90 L478.25,270.90 L478.50,270.90 L478.75,270.90 L479.00,270.90 L479.25,270.90 L479.50,270.90 L479.75,270.90 L480.00,270.90 L480.25,270.90 L480.50,270.90 L480.75,270.90 L481.00,270.90 L481.25,270.90 L481.50,270.90 L481.75,270.90 L482.00,270.90 L482.25,270.90 L482.50,270.90 L482.75,270.90 L483.00,270.90 L483.25,270.90 L483.50,270.90 L483.75,270.90 L484.00,270.90 L484.25,270.90 L484.50,270.90 L484.75,270.90 L485.00,270.90 L485.25,270.90 L485.50,270.90 L485.75,270.90 L486.00,270.90 L486.25,270.90 L486.50,270.90 L486.75,270.90 L487.00,270.90 L487.25,270.90 L487.50,270.90 L487.75,270.90 L488.00,270.90 L488.25,270.77 L488.50,270.45 L488.75,270.14 L489.00,270.01 L489.25,270.25 L489.50,270.92 L489.75,271.84 L490.00,272.76 L490.25,273.44 L490.50,273.68 L490.75,273.35 L491.00,272.43 L491.25,271.18 L491.50,269.93 L491.75,269.02 L492.00,268.68 L492.25,268.77 L492.50,269.01 L492.75,269.37 L493.00,269.79 L493.25,270.22 L493.50,270.58 L493.75,270.82 L494.00,270.90 L494.25,270.90 L494.50,270.90 L494.75,270.90 L495.00,270.90 L495.25,270.90 L495.50,270.90 L495.75,270.90 L496.00,270.90 L496.25,270.90 L496.50,270.90 L496.75,270.90 L497.00,270.90 L497.25,270.90 L497.50,270.90 L497.75,270.90 L498.00,270.90 L498.25,270.90 L498.50,270.90 L498.75,270.90 L499.00,270.90 L499.25,270.90 L499.50,270.90 L499.75,270.90 L500.00,270.90 L500.25,270.73 L500.50,270.30 L500.75,269.88 L501.00,269.71 L501.25,270.04 L501.50,270.93 L501.75,272.16 L502.00,273.38 L502.25,274.28 L502.50,274.61 L502.75,274.16 L503.00,272.94 L503.25,271.28 L503.50,269.61 L503.75,268.39 L504.00,267.94 L504.25,268.06 L504.50,268.38 L504.75,268.86 L505.00,269.42 L505.25,269.99 L505.50,270.47 L505.75,270.79 L506.00,270.90 L506.25,270.90 L506.50,270.90 L506.75,270.90 L507.00,270.90 L507.25,270.90 L507.50,270.90 L507.75,270.90 L508.00,270.90 L508.25,270.90 L508.50,270.90 L508.75,270.90 L509.00,270.90 L509.25,270.90 L509.50,270.90 L509.75,270.90 L510.00,270.90 L510.25,270.90 L510.50,270.90 L510.75,270.90 L511.00,270.90 L511.25,270.90 L511.50,270.90 L511.75,270.90 L512.00,270.90 L512.25,270.90 L512.50,270.90 L512.75,270.90 L513.00,270.90 L513.25,270.90 L513.50,270.90 L513.75,270.90 L514.00,270.90 L514.25,270.90 L514.50,270.90 L514.75,270.90 L515.00,270.90 L515.25,270.90 L515.50,270.90 L515.75,270.90 L516.00,270.90 L516.25,270.90 L516.50,270.90 L516.75,270.90 L517.00,270.90 L517.25,270.90 L517.50,270.90 L517.75,270.90 L518.00,270.90 L518.25,270.90 L518.50,270.90 L518.75,270.90 L519.00,270.90 L519.25,270.90 L519.50,270.90 L519.75,270.90 L520.00,270.90 L520.25,270.90 L520.50,270.90 L520.75,270.90 L521.00,270.90 L521.25,270.90 L521.50,270.90 L521.75,270.90 L522.00,270.90 L522.25,270.90 L522.50,270.90 L522.75,270.90 L523.00,270.90 L523.25,270.90 L523.50,270.90 L523.75,270.90 L524.00,270.90 L524.25,270.90 L524.50,270.90 L524.75,270.90 L525.00,270.90 L525.25,270.90 L525.50,270.90 L525.75,270.90 L526.00,270.90 L526.25,270.90 L526.50,270.90 L526.75,270.90 L527.00,270.90 L527.25,270.90 L527.50,270.90 L527.75,270.90 L528.00,270.90 L528.25,270.90 L528.50,270.90 L528.75,270.90 L529.00,270.90 L529.25,270.90 L529.50,270.90 L529.75,270.90 L530.00,270.90 L530.25,270.90 L530.50,270.90 L530.75,270.90 L531.00,270.90 L531.25,270.90 L531.50,270.90 L531.75,270.90 L532.00,270.90 L532.25,270.90 L532.50,270.90 L532.75,270.90 L533.00,270.90 L533.25,270.90 L533.50,270.90 L533.75,270.90 L534.00,270.90 L534.25,270.90 L534.50,270.90 L534.75,270.90 L535.00,270.90 L535.25,270.90 L535.50,270.90 L535.75,270.90 L536.00,270.90 L536.25,270.90 L536.50,270.90 L536.75,270.90 L537.00,270.90 L537.25,270.90 L537.50,270.90 L537.75,270.90 L538.00,270.90 L538.25,270.90 L538.50,270.90 L538.75,270.90 L539.00,270.90 L539.25,270.90 L539.50,270.90 L539.75,270.90 L540.00,270.90 L540.25,270.90 L540.50,270.90 L540.75,270.90 L541.00,270.90 L541.25,270.90 L541.50,270.90 L541.75,270.90 L542.00,270.90 L542.25,270.90 L542.50,270.90 L542.75,270.90 L543.00,270.90 L543.25,270.90 L543.50,270.90 L543.75,270.90 L544.00,270.90 L544.25,270.90 L544.50,270.90 L544.75,270.90 L545.00,270.90 L545.25,270.90 L545.50,270.90 L545.75,270.90 L546.00,270.90 L546.25,270.90 L546.50,270.90 L546.75,270.90 L547.00,270.90 L547.25,270.90 L547.50,270.90 L547.75,270.90 L548.00,270.90 L548.25,270.90 L548.50,270.90 L548.75,270.90 L549.00,270.90 L549.25,270.90 L549.50,270.90 L549.75,270.90 L550.00,270.90 L550.25,270.90 L550.50,270.90 L550.75,270.90 L551.00,270.90 L551.25,270.90 L551.50,270.90 L551.75,270.90 L552.00,270.90 L552.25,270.90 L552.50,270.90 L552.75,270.90 L553.00,270.90 L553.25,270.90 L553.50,270.90 L553.75,270.90 L554.00,270.90 L554.25,270.90 L554.50,270.90 L554.75,270.90 L555.00,270.90 L555.25,270.90 L555.50,270.90 L555.75,270.90 L556.00,270.90 L556.25,270.90 L556.50,270.90 L556.75,270.90 L557.00,270.90 L557.25,270.90 L557.50,270.90 L557.75,270.90 L558.00,270.90 L558.25,270.90 L558.50,270.90 L558.75,270.90 L559.00,270.90 L559.25,270.90 L559.50,270.90 L559.75,270.90 L560.00,270.90 L560.25,270.90 L560.50,270.90 L560.75,270.90 L561.00,270.90 L561.25,270.90 L561.50,270.90 L561.75,270.90 L562.00,270.90 L562.25,270.90 L562.50,270.90 L562.75,270.90 L563.00,270.90 L563.25,270.90 L563.50,270.90 L563.75,270.90 L564.00,270.90 L564.25,270.90 L564.50,270.90 L564.75,270.90 L565.00,270.90 L565.25,270.90 L565.50,270.90 L565.75,270.90 L566.00,270.90 L566.25,270.90 L566.50,270.90 L566.75,270.90 L567.00,270.90 L567.25,270.90 L567.50,270.90 L567.75,270.90 L568.00,270.90 L568.25,270.90 L568.50,270.90 L568.75,270.90 L569.00,270.90 L569.25,270.90 L569.50,270.90 L569.75,270.90 L570.00,270.90 L570.25,270.90 L570.50,270.90 L570.75,270.90 L571.00,270.90 L571.25,270.90 L571.50,270.90 L571.75,270.90 L572.00,270.90 L572.25,270.90 L572.50,270.90 L572.75,270.90 L573.00,270.90 L573.25,270.90 L573.50,270.90 L573.75,270.90 L574.00,270.90 L574.25,270.90 L574.50,270.90 L574.75,270.90 L575.00,270.90 L575.25,270.90 L575.50,270.90 L575.75,270.90 L576.00,270.90 L576.25,270.90 L576.50,270.90 L576.75,270.90 L577.00,270.90 L577.25,270.90 L577.50,270.90 L577.75,270.90 L578.00,270.90 L578.25,270.90 L578.50,270.90 L578.75,270.90 L579.00,270.90 L579.25,270.90 L579.50,270.90 L579.75,270.90 L580.00,270.90 L580.25,270.90 L580.50,270.90 L580.75,270.90 L581.00,270.90 L581.25,270.90 L581.50,270.90 L581.75,270.90 L582.00,270.90 L582.25,270.90 L582.50,270.90 L582.75,270.90 L583.00,270.90 L583.25,270.90 L583.50,270.90 L583.75,270.90 L584.00,270.90 L584.25,270.90 L584.50,270.90 L584.75,270.90 L585.00,270.90 L585.25,270.90 L585.50,270.90 L585.75,270.90 L586.00,270.90 L586.25,270.90 L586.50,270.90 L586.75,270.90 L587.00,270.90 L587.25,270.90 L587.50,270.90 L587.75,270.90 L588.00,270.90 L588.25,270.90 L588.50,270.90 L588.75,270.90 L589.00,270.90 L589.25,270.90 L589.50,270.90 L589.75,270.90 L590.00,270.90 L590.25,270.90 L590.50,270.90 L590.75,270.90 L591.00,270.90 L591.25,270.90 L591.50,270.90 L591.75,270.90 L592.00,270.90 L592.25,270.90 L592.50,270.90 L592.75,270.90 L593.00,270.90 L593.25,270.90 L593.50,270.90 L593.75,270.90 L594.00,270.90 L594.25,270.90 L594.50,270.90 L594.75,270.90 L595.00,270.90 L595.25,270.90 L595.50,270.90 L595.75,270.90 L596.00,270.90 L596.25,270.90 L596.50,270.90 L596.75,270.90 L597.00,270.90 L597.25,270.90 L597.50,270.90 L597.75,270.90 L598.00,270.90 L598.25,270.90 L598.50,270.90 L598.75,270.90 L599.00,270.90 L599.25,270.90 L599.50,270.90 L599.75,270.90 L600.00,270.90 L600.25,270.90 L600.50,270.90 L600.75,270.90 L601.00,270.90 L601.25,270.90 L601.50,270.90 L601.75,270.90 L602.00,270.90 L602.25,270.90 L602.50,270.90 L602.75,270.90 L603.00,270.90 L603.25,270.90 L603.50,270.90 L603.75,270.90 L604.00,270.90 L604.25,270.90 L604.50,270.90 L604.75,270.90 L605.00,270.90 L605.25,270.90 L605.50,270.90 L605.75,270.90 L606.00,270.90 L606.25,270.90 L606.50,270.90 L606.75,270.90 L607.00,270.90 L607.25,270.90 L607.50,270.90 L607.75,270.90 L608.00,270.90 L608.25,270.90 L608.50,270.90 L608.75,270.90 L609.00,270.90 L609.25,270.90 L609.50,270.90 L609.75,270.90 L610.00,270.90 L610.25,270.90 L610.50,270.90 L610.75,270.90 L611.00,270.90 L611.25,270.90 L611.50,270.90 L611.75,270.90 L612.00,270.90 L612.25,270.90 L612.50,270.90 L612.75,270.90 L613.00,270.90 L613.25,270.90 L613.50,270.90 L613.75,270.90 L614.00,270.90 L614.25,270.90 L614.50,270.90 L614.75,270.90 L615.00,270.90 L615.25,270.90 L615.50,270.90 L615.75,270.90 L616.00,270.90 L616.25,270.90 L616.50,270.90 L616.75,270.90 L617.00,270.90 L617.25,270.90 L617.50,270.90 L617.75,270.90 L618.00,270.90 L618.25,270.90 L618.50,270.90 L618.75,270.90 L619.00,270.90 L619.25,270.90 L619.50,270.90 L619.75,270.90 L620.00,270.90 L620.25,270.90 L620.50,270.90 L620.75,270.90 L621.00,270.90 L621.25,270.90 L621.50,270.90 L621.75,270.90 L622.00,270.90 L622.25,270.90 L622.50,270.90 L622.75,270.90 L623.00,270.90 L623.25,270.90 L623.50,270.90 L623.75,270.90 L624.00,270.90 L624.25,270.90 L624.50,270.90 L624.75,270.90 L625.00,270.90 L625.25,270.90 L625.50,270.90 L625.75,270.90 L626.00,270.90 L626.25,270.90 L626.50,270.90 L626.75,270.90 L627.00,270.90 L627.25,270.90 L627.50,270.90 L627.75,270.90 L628.00,270.90 L628.25,270.90 L628.50,270.90 L628.75,270.90 L629.00,270.90 L629.25,270.90 L629.50,270.90 L629.75,270.90 L630.00,270.90 L630.25,270.90 L630.50,270.90 L630.75,270.90 L631.00,270.90 L631.25,270.90 L631.50,270.90 L631.75,270.90 L632.00,270.90 L632.25,270.90 L632.50,270.90 L632.75,270.90 L633.00,270.90 L633.25,270.90 L633.50,270.90 L633.75,270.90 L634.00,270.90 L634.25,270.90 L634.50,270.90 L634.75,270.90 L635.00,270.90 L635.25,270.90 L635.50,270.90 L635.75,270.90 L636.00,270.90 L636.25,270.90 L636.50,270.90 L636.75,270.90 L637.00,270.90 L637.25,270.90 L637.50,270.90 L637.75,270.90 L638.00,270.90 L638.25,270.90 L638.50,270.90 L638.75,270.90 L639.00,270.90 L639.25,270.90 L639.50,270.90 L639.75,270.90 L640.00,270.90 L640.25,270.90 L640.50,270.90 L640.75,270.90 L641.00,270.90 L641.25,270.90 L641.50,270.90 L641.75,270.90 L642.00,270.90 L642.25,270.90 L642.50,270.90 L642.75,270.90 L643.00,270.90 L643.25,270.90 L643.50,270.90 L643.75,270.90 L644.00,270.90 L644.25,270.90 L644.50,270.90 L644.75,270.90 L645.00,270.90 L645.25,270.90 L645.50,270.90 L645.75,270.90 L646.00,270.90 L646.25,270.90 L646.50,270.90 L646.75,270.90 L647.00,270.90 L647.25,270.90 L647.50,270.90 L647.75,270.90 L648.00,270.90 L648.25,270.90 L648.50,270.90 L648.75,270.90 L649.00,270.90 L649.25,270.90 L649.50,270.90 L649.75,270.90 L650.00,270.90 L650.25,270.90 L650.50,270.90 L650.75,270.90 L651.00,270.90 L651.25,270.90 L651.50,270.90 L651.75,270.90 L652.00,270.90 L652.25,270.90 L652.50,270.90 L652.75,270.90 L653.00,270.90 L653.25,270.90 L653.50,270.90 L653.75,270.90 L654.00,270.90 L654.25,270.90 L654.50,270.90 L654.75,270.90 L655.00,270.90 L655.25,270.90 L655.50,270.90 L655.75,270.90 L656.00,270.90 L656.25,270.90 L656.50,270.90 L656.75,270.90 L657.00,270.90 L657.25,270.90 L657.50,270.90 L657.75,270.90 L658.00,270.90 L658.25,270.90 L658.50,270.90 L658.75,270.90 L659.00,270.90 L659.25,270.90 L659.50,270.90 L659.75,270.90 L660.00,270.90 L660.25,270.90 L660.50,270.90 L660.75,270.90 L661.00,270.90 L661.25,270.90 L661.50,270.90 L661.75,270.90 L662.00,270.90 L662.25,270.90 L662.50,270.90 L662.75,270.90 L663.00,270.90 L663.25,270.90 L663.50,270.90 L663.75,270.90 L664.00,270.90 L664.25,270.90 L664.50,270.90 L664.75,270.90 L665.00,270.90 L665.25,270.90 L665.50,270.90 L665.75,270.90 L666.00,270.90 L666.25,270.90 L666.50,270.90 L666.75,270.90 L667.00,270.90 L667.25,270.90 L667.50,270.90 L667.75,270.90 L668.00,270.90 L668.25,270.90 L668.50,270.90 L668.75,270.90 L669.00,270.90 L669.25,270.90 L669.50,270.90 L669.75,270.90 L670.00,270.90 L670.25,270.90 L670.50,270.90 L670.75,270.90 L671.00,270.90 L671.25,270.90 L671.50,270.90 L671.75,270.90 L672.00,270.90 L672.25,270.90 L672.50,270.90 L672.75,270.90 L673.00,270.90 L673.25,270.90 L673.50,270.90 L673.75,270.90 L674.00,270.90 L674.25,270.90 L674.50,270.90 L674.75,270.90 L675.00,270.90 L675.25,270.90 L675.50,270.90 L675.75,270.90 L676.00,270.90 L676.25,270.90 L676.50,270.90 L676.75,270.90 L677.00,270.90 L677.25,270.90 L677.50,270.90 L677.75,270.90 L678.00,270.90 L678.25,270.90 L678.50,270.90 L678.75,270.90 L679.00,270.90 L679.25,270.90 L679.50,270.90 L679.75,270.90 L680.00,270.90 L680.25,270.90 L680.50,270.90 L680.75,270.90 L681.00,270.90 L681.25,270.90 L681.50,270.90 L681.75,270.90 L682.00,270.90 L682.25,270.90 L682.50,270.90 L682.75,270.90 L683.00,270.90 L683.25,270.90 L683.50,270.90 L683.75,270.90 L684.00,270.90 L684.25,270.90 L684.50,270.90 L684.75,270.90 L685.00,270.90 L685.25,270.90 L685.50,270.90 L685.75,270.90 L686.00,270.90 L686.25,270.90 L686.50,270.90 L686.75,270.90 L687.00,270.90 L687.25,270.90 L687.50,270.90 L687.75,270.90 L688.00,270.90 L688.25,270.90 L688.50,270.90 L688.75,270.90 L689.00,270.90 L689.25,270.90 L689.50,270.90 L689.75,270.90 L690.00,270.90 L690.25,270.90 L690.50,270.90 L690.75,270.90 L691.00,270.90 L691.25,270.90 L691.50,270.90 L691.75,270.90 L692.00,270.90 L692.25,270.90 L692.50,270.90 L692.75,270.90 L693.00,270.90 L693.25,270.90 L693.50,270.90 L693.75,270.90 L694.00,270.90 L694.25,270.90 L694.50,270.90 L694.75,270.90 L695.00,270.90 L695.25,270.90 L695.50,270.90 L695.75,270.90 L696.00,270.90 L696.25,270.90 L696.50,270.90 L696.75,270.90 L697.00,270.90 L697.25,270.90 L697.50,270.90 L697.75,270.90 L698.00,270.90 L698.25,270.77 L698.50,270.45 L698.75,270.14 L699.00,270.01 L699.25,270.21 L699.50,270.78 L699.75,271.56 L700.00,272.34 L700.25,272.91 L700.50,273.12 L700.75,272.77 L701.00,271.81 L701.25,270.51 L701.50,269.20 L701.75,268.25 L702.00,267.90 L702.25,268.25 L702.50,269.20 L702.75,270.51 L703.00,271.81 L703.25,272.77 L703.50,273.12 L703.75,273.06 L704.00,272.91 L704.25,272.66 L704.50,272.35 L704.75,272.01 L705.00,271.67 L705.25,271.36 L705.50,271.11 L705.75,270.95 L706.00,270.90 L706.25,270.90 L706.50,270.90 L706.75,270.90 L707.00,270.90 L707.25,270.90 L707.50,270.90 L707.75,270.90 L708.00,270.90 L708.25,270.90 L708.50,270.90 L708.75,270.90 L709.00,270.90 L709.25,270.90 L709.50,270.90 L709.75,270.90 L710.00,270.90 L710.25,270.90 L710.50,270.90 L710.75,270.90 L711.00,270.90 L711.25,270.90 L711.50,270.90 L711.75,270.90 L712.00,270.90 L712.25,270.90 L712.50,270.90 L712.75,270.90 L713.00,270.90 L713.25,270.90 L713.50,270.90 L713.75,270.90 L714.00,270.90 L714.25,270.90 L714.50,270.90 L714.75,270.90 L715.00,270.90 L715.25,270.90 L715.50,270.90 L715.75,270.90 L716.00,270.90 L716.25,270.90 L716.50,270.90 L716.75,270.90 L717.00,270.90 L717.25,270.90 L717.50,270.90 L717.75,270.90 L718.00,270.90 L718.25,270.90 L718.50,270.90 L718.75,270.90 L719.00,270.90 L719.25,270.90 L719.50,270.90 L719.75,270.90 L720.00,270.90 L720.25,270.90 L720.50,270.90 L720.75,270.90 L721.00,270.90 L721.25,270.90 L721.50,270.90 L721.75,270.90 L722.00,270.90 L722.25,270.90 L722.50,270.90 L722.75,270.90 L723.00,270.90 L723.25,270.90 L723.50,270.90 L723.75,270.90 L724.00,270.90 L724.25,270.90 L724.50,270.90 L724.75,270.90 L725.00,270.90 L725.25,270.90 L725.50,270.90 L725.75,270.90 L726.00,270.90 L726.25,270.90 L726.50,270.90 L726.75,270.90 L727.00,270.90 L727.25,270.90 L727.50,270.90 L727.75,270.90 L728.00,270.90 L728.25,270.90 L728.50,270.90 L728.75,270.90 L729.00,270.90 L729.25,270.90 L729.50,270.90 L729.75,270.90 L730.00,270.90 L730.25,270.90 L730.50,270.90 L730.75,270.90 L731.00,270.90 L731.25,270.90 L731.50,270.90 L731.75,270.90 L732.00,270.90 L732.25,270.90 L732.50,270.90 L732.75,270.90 L733.00,270.90 L733.25,270.90 L733.50,270.90 L733.75,270.90 L734.00,270.90 L734.25,270.90 L734.50,270.90 L734.75,270.90 L735.00,270.90 L735.25,270.90 L735.50,270.90 L735.75,270.90 L736.00,270.90 L736.25,270.90 L736.50,270.90 L736.75,270.90 L737.00,270.90 L737.25,270.90 L737.50,270.90 L737.75,270.90 L738.00,270.90 L738.25,270.90 L738.50,270.90 L738.75,270.90 L739.00,270.90 L739.25,270.90 L739.50,270.90 L739.75,270.90 L740.00,270.90 L740.25,270.90 L740.50,270.90 L740.75,270.90 L741.00,270.90 L741.25,270.90 L741.50,270.90 L741.75,270.90 L742.00,270.90 L742.25,270.90 L742.50,270.90 L742.75,270.90 L743.00,270.90 L743.25,270.90 L743.50,270.90 L743.75,270.90 L744.00,270.90 L744.25,270.90 L744.50,270.90 L744.75,270.90 L745.00,270.90 L745.25,270.90 L745.50,270.90 L745.75,270.90 L746.00,270.90 L746.25,270.90 L746.50,270.90 L746.75,270.90 L747.00,270.90 L747.25,270.90 L747.50,270.90 L747.75,270.90 L748.00,270.90 L748.25,270.90 L748.50,270.90 L748.75,270.90 L749.00,270.90 L749.25,270.90 L749.50,270.90 L749.75,270.90 L750.00,270.90 L750.25,270.90 L750.50,270.90 L750.75,270.90 L751.00,270.90 L751.25,270.90 L751.50,270.90 L751.75,270.90 L752.00,270.90 L752.25,270.90 L752.50,270.90 L752.75,270.90 L753.00,270.90 L753.25,270.90 L753.50,270.90 L753.75,270.90 L754.00,270.90 L754.25,270.90 L754.50,270.90 L754.75,270.90 L755.00,270.90 L755.25,270.90 L755.50,270.90 L755.75,270.90 L756.00,270.90 L756.25,270.90 L756.50,270.90 L756.75,270.90 L757.00,270.90 L757.25,270.90 L757.50,270.90 L757.75,270.90 L758.00,270.90 L758.25,270.90 L758.50,270.90 L758.75,270.90 L759.00,270.90 L759.25,270.90 L759.50,270.90 L759.75,270.90 L760.00,270.90 L760.25,270.90 L760.50,270.90 L760.75,270.90 L761.00,270.90 L761.25,270.90 L761.50,270.90 L761.75,270.90 L762.00,270.90 L762.25,270.90 L762.50,270.90 L762.75,270.90 L763.00,270.90 L763.25,270.90 L763.50,270.90 L763.75,270.90 L764.00,270.90 L764.25,270.90 L764.50,270.90 L764.75,270.90 L765.00,270.90 L765.25,270.90 L765.50,270.90 L765.75,270.90 L766.00,270.90 L766.25,270.90 L766.50,270.90 L766.75,270.90 L767.00,270.90 L767.25,270.90 L767.50,270.90 L767.75,270.90 L768.00,270.90 L768.25,270.90 L768.50,270.90 L768.75,270.90 L769.00,270.90 L769.25,270.90 L769.50,270.90 L769.75,270.90 L770.00,270.90 L770.25,270.90 L770.50,270.90 L770.75,270.90 L771.00,270.90 L771.25,270.90 L771.50,270.90 L771.75,270.90 L772.00,270.90 L772.25,270.90 L772.50,270.90 L772.75,270.90 L773.00,270.90 L773.25,270.90 L773.50,270.90 L773.75,270.90 L774.00,270.90 L774.25,270.90 L774.50,270.90 L774.75,270.90 L775.00,270.90 L775.25,270.90 L775.50,270.90 L775.75,270.90 L776.00,270.90 L776.25,270.90 L776.50,270.90 L776.75,270.90 L777.00,270.90 L777.25,270.90 L777.50,270.90 L777.75,270.90 L778.00,270.90 L778.25,270.90 L778.50,270.90 L778.75,270.90 L779.00,270.90 L779.25,270.90 L779.50,270.90 L779.75,270.90 L780.00,270.90 L780.25,270.90 L780.50,270.90 L780.75,270.90 L781.00,270.90 L781.25,270.90 L781.50,270.90 L781.75,270.90 L782.00,270.90 L782.25,270.90 L782.50,270.90 L782.75,270.90 L783.00,270.90 L783.25,270.90 L783.50,270.90 L783.75,270.90 L784.00,270.90 L784.25,270.90 L784.50,270.90 L784.75,270.90 L785.00,270.90 L785.25,270.90 L785.50,270.90 L785.75,270.90 L786.00,270.90 L786.25,270.90 L786.50,270.90 L786.75,270.90 L787.00,270.90 L787.25,270.90 L787.50,270.90 L787.75,270.90 L788.00,270.90 L788.25,270.90 L788.50,270.90 L788.75,270.90 L789.00,270.90 L789.25,270.90 L789.50,270.90 L789.75,270.90 L790.00,270.90 L790.25,270.90 L790.50,270.90 L790.75,270.90 L791.00,270.90 L791.25,270.90 L791.50,270.90 L791.75,270.90 L792.00,270.90 L792.25,270.90 L792.50,270.90 L792.75,270.90 L793.00,270.90 L793.25,270.90 L793.50,270.90 L793.75,270.90 L794.00,270.90 L794.25,270.90 L794.50,270.90 L794.75,270.90 L795.00,270.90 L795.25,270.90 L795.50,270.90 L795.75,270.90 L796.00,270.90 L796.25,270.90 L796.50,270.90 L796.75,270.90 L797.00,270.90 L797.25,270.90 L797.50,270.90 L797.75,270.90 L798.00,270.90 L798.25,270.90 L798.50,270.90 L798.75,270.90 L799.00,270.90 L799.25,270.90 L799.50,270.90 L799.75,270.90 L800.00,270.90 L800.25,270.90 L800.50,270.90 L800.75,270.90 L801.00,270.90 L801.25,270.90 L801.50,270.90 L801.75,270.90 L802.00,270.90 L802.25,270.90 L802.50,270.90 L802.75,270.90 L803.00,270.90 L803.25,270.90 L803.50,270.90 L803.75,270.90 L804.00,270.90 L804.25,270.90 L804.50,270.90 L804.75,270.90 L805.00,270.90 L805.25,270.90 L805.50,270.90 L805.75,270.90 L806.00,270.90 L806.25,270.90 L806.50,270.90 L806.75,270.90 L807.00,270.90 L807.25,270.90 L807.50,270.90 L807.75,270.90 L808.00,270.90 L808.25,270.90 L808.50,270.90 L808.75,270.90 L809.00,270.90 L809.25,270.90 L809.50,270.90 L809.75,270.90 L810.00,270.90 L810.25,270.90 L810.50,270.90 L810.75,270.90 L811.00,270.90 L811.25,270.90 L811.50,270.90 L811.75,270.90 L812.00,270.90 L812.25,270.90 L812.50,270.90 L812.75,270.90 L813.00,270.90 L813.25,270.90 L813.50,270.90 L813.75,270.90 L814.00,270.90 L814.25,270.90 L814.50,270.90 L814.75,270.90 L815.00,270.90 L815.25,270.90 L815.50,270.90 L815.75,270.90 L816.00,270.90 L816.25,270.90 L816.50,270.90 L816.75,270.90 L817.00,270.90 L817.25,270.90 L817.50,270.90 L817.75,270.90 L818.00,270.90 L818.25,270.90 L818.50,270.90 L818.75,270.90 L819.00,270.90 L819.25,270.90 L819.50,270.90 L819.75,270.90 L820.00,270.90 L820.25,270.90 L820.50,270.90 L820.75,270.90 L821.00,270.90 L821.25,270.90 L821.50,270.90 L821.75,270.90 L822.00,270.90 L822.25,270.90 L822.50,270.90 L822.75,270.90 L823.00,270.90 L823.25,270.90 L823.50,270.90 L823.75,270.90 L824.00,270.90 L824.25,270.90 L824.50,270.90 L824.75,270.90 L825.00,270.90 L825.25,270.90 L825.50,270.90 L825.75,270.90 L826.00,270.90 L826.25,270.90 L826.50,270.90 L826.75,270.90 L827.00,270.90 L827.25,270.90 L827.50,270.90 L827.75,270.90 L828.00,270.90 L828.25,270.90 L828.50,270.90 L828.75,270.90 L829.00,270.90 L829.25,270.90 L829.50,270.90 L829.75,270.90 L830.00,270.90 L830.25,270.90 L830.50,270.90 L830.75,270.90 L831.00,270.90 L831.25,270.90 L831.50,270.90 L831.75,270.90 L832.00,270.90 L832.25,270.90 L832.50,270.90 L832.75,270.90 L833.00,270.90 L833.25,270.90 L833.50,270.90 L833.75,270.90 L834.00,270.90 L834.25,270.90 L834.50,270.90 L834.75,270.90 L835.00,270.90 L835.25,270.90 L835.50,270.90 L835.75,270.90 L836.00,270.90 L836.25,270.90 L836.50,270.90 L836.75,270.90 L837.00,270.90 L837.25,270.90 L837.50,270.90 L837.75,270.90 L838.00,270.90 L838.25,270.90 L838.50,270.90 L838.75,270.90 L839.00,270.90 L839.25,270.90 L839.50,270.90 L839.75,270.90 L840.00,270.90 L840.25,270.90 L840.50,270.90 L840.75,270.90 L841.00,270.90 L841.25,270.90 L841.50,270.90 L841.75,270.90 L842.00,270.90 L842.25,270.90 L842.50,270.90 L842.75,270.90 L843.00,270.90 L843.25,270.90 L843.50,270.90 L843.75,270.90 L844.00,270.90 L844.25,270.90 L844.50,270.90 L844.75,270.90 L845.00,270.90 L845.25,270.90 L845.50,270.90 L845.75,270.90 L846.00,270.90 L846.25,270.90 L846.50,270.90 L846.75,270.90 L847.00,270.90 L847.25,270.90 L847.50,270.90 L847.75,270.90 L848.00,270.90 L848.25,270.90 L848.50,270.90 L848.75,270.90 L849.00,270.90 L849.25,270.90 L849.50,270.90 L849.75,270.90 L850.00,270.90 L850.25,270.90 L850.50,270.90 L850.75,270.90 L851.00,270.90 L851.25,270.90 L851.50,270.90 L851.75,270.90 L852.00,270.90 L852.25,270.90 L852.50,270.90 L852.75,270.90 L853.00,270.90 L853.25,270.90 L853.50,270.90 L853.75,270.90 L854.00,270.90 L854.25,270.90 L854.50,270.90 L854.75,270.90 L855.00,270.90 L855.25,270.90 L855.50,270.90 L855.75,270.90 L856.00,270.90 L856.25,270.90 L856.50,270.90 L856.75,270.90 L857.00,270.90 L857.25,270.90 L857.50,270.90 L857.75,270.90 L858.00,270.90 L858.25,270.90 L858.50,270.90 L858.75,270.90 L859.00,270.90 L859.25,270.90 L859.50,270.90 L859.75,270.90 L860.00,270.90 L860.25,270.90 L860.50,270.90 L860.75,270.90 L861.00,270.90 L861.25,270.90 L861.50,270.90 L861.75,270.90 L862.00,270.90 L862.25,270.90 L862.50,270.90 L862.75,270.90 L863.00,270.90 L863.25,270.90 L863.50,270.90 L863.75,270.90 L864.00,270.90 L864.25,270.90 L864.50,270.90 L864.75,270.90 L865.00,270.90 L865.25,270.90 L865.50,270.90 L865.75,270.90 L866.00,270.90 L866.25,270.90 L866.50,270.90 L866.75,270.90 L867.00,270.90 L867.25,270.90 L867.50,270.90 L867.75,270.90 L868.00,270.90 L868.25,270.90 L868.50,270.90 L868.75,270.90 L869.00,270.90 L869.25,270.90 L869.50,270.90 L869.75,270.90 L870.00,270.90 L870.25,270.90 L870.50,270.90 L870.75,270.90 L871.00,270.90 L871.25,270.90 L871.50,270.90 L871.75,270.90 L872.00,270.90 L872.25,270.90 L872.50,270.90 L872.75,270.90 L873.00,270.90 L873.25,270.90 L873.50,270.90 L873.75,270.90 L874.00,270.90 L874.25,270.90 L874.50,270.90 L874.75,270.90 L875.00,270.90 L875.25,270.90 L875.50,270.90 L875.75,270.90 L876.00,270.90 L876.25,270.90 L876.50,270.90 L876.75,270.90 L877.00,270.90 L877.25,270.90 L877.50,270.90 L877.75,270.90 L878.00,270.90 L878.25,270.90 L878.50,270.90 L878.75,270.90 L879.00,270.90 L879.25,270.90 L879.50,270.90 L879.75,270.90 L880.00,270.90 L880.25,270.90 L880.50,270.90 L880.75,270.90 L881.00,270.90 L881.25,270.90 L881.50,270.90 L881.75,270.90 L882.00,270.90 L882.25,270.90 L882.50,270.90 L882.75,270.90 L883.00,270.90 L883.25,270.90 L883.50,270.90 L883.75,270.90 L884.00,270.90 L884.25,270.90 L884.50,270.90 L884.75,270.90 L885.00,270.90 L885.25,270.90 L885.50,270.90 L885.75,270.90 L886.00,270.90 L886.25,270.90 L886.50,270.90 L886.75,270.90 L887.00,270.90 L887.25,270.90 L887.50,270.90 L887.75,270.90 L888.00,270.90 L888.25,270.90 L888.50,270.90 L888.75,270.90 L889.00,270.90 L889.25,270.90 L889.50,270.90 L889.75,270.90 L890.00,270.90 L890.25,270.90 L890.50,270.90 L890.75,270.90 L891.00,270.90 L891.25,270.90 L891.50,270.90 L891.75,270.90 L892.00,270.90 L892.25,270.90 L892.50,270.90 L892.75,270.90 L893.00,270.90 L893.25,270.90 L893.50,270.90 L893.75,270.90 L894.00,270.90 L894.25,270.90 L894.50,270.90 L894.75,270.90 L895.00,270.90 L895.25,270.90 L895.50,270.90 L895.75,270.90 L896.00,270.90 L896.25,270.90 L896.50,270.90 L896.75,270.90 L897.00,270.90 L897.25,270.90 L897.50,270.90 L897.75,270.90 L898.00,270.90 L898.25,270.90 L898.50,270.90 L898.75,270.90 L899.00,270.90 L899.25,270.90 L899.50,270.90 L899.75,270.90 L900.00,270.90 L900.25,270.90 L900.50,270.90 L900.75,270.90 L901.00,270.90 L901.25,270.90 L901.50,270.90 L901.75,270.90 L902.00,270.90 L902.25,270.90 L902.50,270.90 L902.75,270.90 L903.00,270.90 L903.25,270.90 L903.50,270.90 L903.75,270.90 L904.00,270.90 L904.25,270.90 L904.50,270.90 L904.75,270.90 L905.00,270.90 L905.25,270.90 L905.50,270.90 L905.75,270.90 L906.00,270.90 L906.25,270.90 L906.50,270.90 L906.75,270.90 L907.00,270.90 L907.25,270.90 L907.50,270.90 L907.75,270.90 L908.00,270.90 L908.25,270.90 L908.50,270.90 L908.75,270.90 L909.00,270.90 L909.25,270.90 L909.50,270.90 L909.75,270.90 L910.00,270.90 L910.25,270.90 L910.50,270.90 L910.75,270.90 L911.00,270.90 L911.25,270.90 L911.50,270.90 L911.75,270.90 L912.00,270.90 L912.25,270.90 L912.50,270.90 L912.75,270.90 L913.00,270.90 L913.25,270.90 L913.50,270.90 L913.75,270.90 L914.00,270.90 L914.25,270.90 L914.50,270.90 L914.75,270.90 L915.00,270.90 L915.25,270.90 L915.50,270.90 L915.75,270.90 L916.00,270.90 L916.25,270.90 L916.50,270.90 L916.75,270.90 L917.00,270.90 L917.25,270.90 L917.50,270.90 L917.75,270.90 L918.00,270.90 L918.25,270.90 L918.50,270.90 L918.75,270.90 L919.00,270.90 L919.25,270.90 L919.50,270.90 L919.75,270.90 L920.00,270.90 L920.25,270.90 L920.50,270.90 L920.75,270.90 L921.00,270.90 L921.25,270.90 L921.50,270.90 L921.75,270.90 L922.00,270.90 L922.25,270.90 L922.50,270.90 L922.75,270.90 L923.00,270.90 L923.25,270.90 L923.50,270.90 L923.75,270.90 L924.00,270.90 L924.25,270.90 L924.50,270.90 L924.75,270.90 L925.00,270.90 L925.25,270.90 L925.50,270.90 L925.75,270.90 L926.00,270.90 L926.25,270.90 L926.50,270.90 L926.75,270.90 L927.00,270.90 L927.25,270.90 L927.50,270.90 L927.75,270.90 L928.00,270.90 L928.25,270.90 L928.50,270.90 L928.75,270.90 L929.00,270.90 L929.25,270.90 L929.50,270.90 L929.75,270.90 L930.00,270.90 L930.25,270.90 L930.50,270.90 L930.75,270.90 L931.00,270.90 L931.25,270.90 L931.50,270.90 L931.75,270.90 L932.00,270.90 L932.25,270.90 L932.50,270.90 L932.75,270.90 L933.00,270.90 L933.25,270.90 L933.50,270.90 L933.75,270.90 L934.00,270.90 L934.25,270.90 L934.50,270.90 L934.75,270.90 L935.00,270.90 L935.25,270.90 L935.50,270.90 L935.75,270.90 L936.00,270.90 L936.25,270.90 L936.50,270.90 L936.75,270.90 L937.00,270.90 L937.25,270.90 L937.50,270.90 L937.75,270.90 L938.00,270.90 L938.25,270.90 L938.50,270.90 L938.75,270.90 L939.00,270.90 L939.25,270.90 L939.50,270.90 L939.75,270.90 L940.00,270.90 L940.25,270.90 L940.50,270.90 L940.75,270.90 L941.00,270.90 L941.25,270.90 L941.50,270.90 L941.75,270.90 L942.00,270.90 L942.25,270.90 L942.50,270.90 L942.75,270.90 L943.00,270.90 L943.25,270.90 L943.50,270.90 L943.75,270.90 L944.00,270.90 L944.25,270.90 L944.50,270.90 L944.75,270.90 L945.00,270.90 L945.25,270.90 L945.50,270.90 L945.75,270.90 L946.00,270.90 L946.25,270.90 L946.50,270.90 L946.75,270.90 L947.00,270.90 L947.25,270.90 L947.50,270.90 L947.75,270.90 L948.00,270.90 L948.25,270.90 L948.50,270.90 L948.75,270.90 L949.00,270.90 L949.25,270.90 L949.50,270.90 L949.75,270.90 L950.00,270.90 L950.25,270.90 L950.50,270.90 L950.75,270.90 L951.00,270.90 L951.25,270.90 L951.50,270.90 L951.75,270.90 L952.00,270.90 L952.25,270.90 L952.50,270.90 L952.75,270.90 L953.00,270.90 L953.25,270.90 L953.50,270.90 L953.75,270.90 L954.00,270.90 L954.25,270.90 L954.50,270.90 L954.75,270.90 L955.00,270.90 L955.25,270.90 L955.50,270.90 L955.75,270.90 L956.00,270.90 L956.25,270.90 L956.50,270.90 L956.75,270.90 L957.00,270.90 L957.25,270.90 L957.50,270.90 L957.75,270.90 L958.00,270.90 L958.25,270.90 L958.50,270.90 L958.75,270.90 L959.00,270.90 L959.25,270.90 L959.50,270.90 L959.75,270.90 L960.00,270.90 L960.25,270.90 L960.50,270.90 L960.75,270.90 L961.00,270.90 L961.25,270.90 L961.50,270.90 L961.75,270.90 L962.00,270.90 L962.25,270.90 L962.50,270.90 L962.75,270.90 L963.00,270.90 L963.25,270.90 L963.50,270.90 L963.75,270.90 L964.00,270.90 L964.25,270.90 L964.50,270.90 L964.75,270.90 L965.00,270.90 L965.25,270.90 L965.50,270.90 L965.75,270.90 L966.00,270.90 L966.25,270.90 L966.50,270.90 L966.75,270.90 L967.00,270.90 L967.25,270.90 L967.50,270.90 L967.75,270.90 L968.00,270.90 L968.25,270.90 L968.50,270.90 L968.75,270.90 L969.00,270.90 L969.25,270.90 L969.50,270.90 L969.75,270.90 L970.00,270.90 L970.25,270.90 L970.50,270.90 L970.75,270.90 L971.00,270.90 L971.25,270.90 L971.50,270.90 L971.75,270.90 L972.00,270.90 L972.25,270.90 L972.50,270.90 L972.75,270.90 L973.00,270.90 L973.25,270.90 L973.50,270.90 L973.75,270.90 L974.00,270.90 L974.25,270.90 L974.50,270.90 L974.75,270.90 L975.00,270.90 L975.25,270.90 L975.50,270.90 L975.75,270.90 L976.00,270.90 L976.25,270.90 L976.50,270.90 L976.75,270.90 L977.00,270.90 L977.25,270.90 L977.50,270.90 L977.75,270.90 L978.00,270.90 L978.25,270.90 L978.50,270.90 L978.75,270.90 L979.00,270.90 L979.25,270.90 L979.50,270.90 L979.75,270.90 L980.00,270.90 L980.25,270.90 L980.50,270.90 L980.75,270.90 L981.00,270.90 L981.25,270.90 L981.50,270.90 L981.75,270.90 L982.00,270.90 L982.25,270.90 L982.50,270.90 L982.75,270.90 L983.00,270.90 L983.25,270.90 L983.50,270.90 L983.75,270.90 L984.00,270.90 L984.25,270.90 L984.50,270.90 L984.75,270.90 L985.00,270.90 L985.25,270.90 L985.50,270.90 L985.75,270.90 L986.00,270.90 L986.25,270.90 L986.50,270.90 L986.75,270.90 L987.00,270.90 L987.25,270.90 L987.50,270.90 L987.75,270.90 L988.00,270.90 L988.25,270.90 L988.50,270.90 L988.75,270.90 L989.00,270.90 L989.25,270.90 L989.50,270.90 L989.75,270.90 L990.00,270.90 L990.25,270.90 L990.50,270.90 L990.75,270.90 L991.00,270.90 L991.25,270.90 L991.50,270.90 L991.75,270.90 L992.00,270.90 L992.25,270.90 L992.50,270.90 L992.75,270.90 L993.00,270.90 L993.25,270.90 L993.50,270.90 L993.75,270.90 L994.00,270.90 L994.25,270.90 L994.50,270.90 L994.75,270.90 L995.00,270.90 L995.25,270.90 L995.50,270.90 L995.75,270.90 L996.00,270.90 L996.25,270.90 L996.50,270.90 L996.75,270.90 L997.00,270.90 L997.25,270.90 L997.50,270.90 L997.75,270.90 L998.00,270.90 L998.25,270.90 L998.50,270.90 L998.75,270.90 L999.00,270.90 L999.25,270.90 L999.50,270.90 L999.75,270.90 L1000.00,270.90" stroke="#00ff00" stroke-width="3.7" stroke-dasharray="12.5 4.7 5 4.7"/>
<path d="M590.00,269.50 L592.00,266.50 L595.00,263.50 L597.50,261.30 L600.00,262.50 L603.00,265.00 L606.50,267.50 L607.00,270.00 L604.00,273.00 L600.50,276.50 L597.50,280.50 L596.00,281.20 L594.50,278.00 L592.50,274.00 L590.00,271.50 Z" fill="#00ff00" stroke="none"/>
<path d="M752.50,268.00 L754.00,265.00 L758.00,263.50 L763.00,262.50 L766.00,260.80 L772.00,260.30 L777.00,261.20 L781.00,260.30 L786.00,260.80 L789.00,262.30 L794.00,263.50 L797.50,266.00 L798.00,270.00 L796.00,274.00 L792.00,276.50 L788.00,278.50 L781.00,279.20 L776.00,278.20 L770.00,279.20 L762.00,278.50 L757.00,276.00 L754.00,273.00 Z" fill="#00ff00" stroke="none"/>
<path d="M932.00,268.00 L935.00,265.50 L940.00,265.00 L944.00,267.50 L944.00,273.00 L940.00,275.00 L935.00,275.00 L932.00,272.50 Z" fill="#00ff00" stroke="none"/>
<path d="M958.00,268.00 L961.00,264.00 L964.00,262.50 L968.00,264.00 L970.00,268.00 L970.00,273.00 L966.00,275.00 L961.00,275.00 L958.00,272.50 Z" fill="#00ff00" stroke="none"/>
<path id="bp" d="M111.20,618.00 L111.70,618.20 L112.20,618.42 L112.70,618.64 L113.20,618.87 L113.70,619.10 L114.20,619.35 L114.70,619.61 L115.20,619.91 L115.70,620.24 L116.20,620.59 L116.70,620.91 L117.20,621.19 L117.70,621.41 L118.20,621.55 L118.70,621.66 L119.20,621.76 L119.70,621.85 L120.20,621.92 L120.70,621.97 L121.20,622.00 L121.70,621.97 L122.20,621.80 L122.70,621.51 L123.20,621.14 L123.70,620.74 L124.20,620.33 L124.70,619.83 L125.20,619.22 L125.70,618.54 L126.20,617.79 L126.70,616.99 L127.20,616.16 L127.70,615.22 L128.20,614.18 L128.70,613.06 L129.20,611.90 L129.70,610.71 L130.20,609.53 L130.70,608.32 L131.20,607.09 L131.70,605.80 L132.20,604.44 L132.70,603.00 L133.20,601.46 L133.70,599.83 L134.20,598.12 L134.70,596.35 L135.20,594.51 L135.70,592.62 L136.20,590.70 L136.70,588.75 L137.20,586.79 L137.70,584.80 L138.20,582.73 L138.70,580.60 L139.20,578.42 L139.70,576.22 L140.20,574.00 L140.70,571.78 L141.20,569.59 L141.70,567.43 L142.20,565.30 L142.70,563.20 L143.20,561.10 L143.70,559.01 L144.20,556.93 L144.70,554.84 L145.20,552.75 L145.70,550.66 L146.20,548.55 L146.70,546.42 L147.20,544.29 L147.70,542.15 L148.20,539.99 L148.70,537.84 L149.20,535.69 L149.70,533.53 L150.20,531.39 L150.70,529.25 L151.20,527.13 L151.70,525.02 L152.20,522.91 L152.70,520.82 L153.20,518.73 L153.70,516.63 L154.20,514.53 L154.70,512.41 L155.20,510.29 L155.70,508.14 L156.20,505.99 L156.70,503.83 L157.20,501.66 L157.70,499.47 L158.20,497.28 L158.70,495.07 L159.20,492.84 L159.70,490.60 L160.20,488.32 L160.70,486.01 L161.20,483.69 L161.70,481.35 L162.20,479.02 L162.70,476.71 L163.20,474.41 L163.70,472.14 L164.20,469.89 L164.70,467.65 L165.20,465.43 L165.70,463.21 L166.20,460.99 L166.70,458.77 L167.20,456.56 L167.70,454.34 L168.20,452.11 L168.70,449.88 L169.20,447.65 L169.70,445.43 L170.20,443.20 L170.70,440.98 L171.20,438.75 L171.70,436.53 L172.20,434.30 L172.70,432.06 L173.20,429.83 L173.70,427.59 L174.20,425.35 L174.70,423.10 L175.20,420.83 L175.70,418.56 L176.20,416.27 L176.70,413.97 L177.20,411.67 L177.70,409.38 L178.20,407.09 L178.70,404.81 L179.20,402.54 L179.70,400.30 L180.20,398.07 L180.70,395.87 L181.20,393.69 L181.70,391.52 L182.20,389.38 L182.70,387.30 L183.20,385.30 L183.70,383.38 L184.20,381.52 L184.70,379.71 L185.20,377.96 L185.70,376.26 L186.20,374.63 L186.70,373.06 L187.20,371.54 L187.70,370.06 L188.20,368.59 L188.70,367.11 L189.20,365.60 L189.70,364.07 L190.20,362.54 L190.70,361.01 L191.20,359.48 L191.70,357.94 L192.20,356.39 L192.70,354.84 L193.20,353.29 L193.70,351.73 L194.20,350.16 L194.70,348.58 L195.20,347.00 L195.70,345.37 L196.20,343.69 L196.70,342.01 L197.20,340.35 L197.70,338.77 L198.20,337.30 L198.70,335.94 L199.20,334.65 L199.70,333.41 L200.20,332.22 L200.70,331.05 L201.20,329.89 L201.70,328.73 L202.20,327.57 L202.70,326.43 L203.20,325.30 L203.70,324.18 L204.20,323.07 L204.70,321.97 L205.20,320.88 L205.70,319.78 L206.20,318.69 L206.70,317.61 L207.20,316.54 L207.70,315.47 L208.20,314.40 L208.70,313.34 L209.20,312.27 L209.70,311.20 L210.20,310.11 L210.70,309.01 L211.20,307.89 L211.70,306.77 L212.20,305.66 L212.70,304.59 L213.20,303.54 L213.70,302.55 L214.20,301.62 L214.70,300.74 L215.20,299.90 L215.70,299.09 L216.20,298.31 L216.70,297.54 L217.20,296.79 L217.70,296.04 L218.20,295.29 L218.70,294.52 L219.20,293.74 L219.70,292.94 L220.20,292.11 L220.70,291.28 L221.20,290.44 L221.70,289.61 L222.20,288.80 L222.70,288.01 L223.20,287.25 L223.70,286.53 L224.20,285.85 L224.70,285.23 L225.20,284.63 L225.70,284.04 L226.20,283.47 L226.70,282.92 L227.20,282.39 L227.70,281.87 L228.20,281.37 L228.70,280.88 L229.20,280.41 L229.70,279.95 L230.20,279.51 L230.70,279.08 L231.20,278.66 L231.70,278.26 L232.20,277.85 L232.70,277.44 L233.20,277.04 L233.70,276.64 L234.20,276.24 L234.70,275.85 L235.20,275.47 L235.70,275.10 L236.20,274.75 L236.70,274.42 L237.20,274.10 L237.70,273.80 L238.20,273.53 L238.70,273.28 L239.20,273.05 L239.70,272.86 L240.20,272.70 L240.70,272.56 L241.20,272.42 L241.70,272.28 L242.20,272.15 L242.70,272.03 L243.20,271.91 L243.70,271.79 L244.20,271.68 L244.70,271.58 L245.20,271.49 L245.70,271.40 L246.20,271.32 L246.70,271.25 L247.20,271.18 L247.70,271.12 L248.20,271.08 L248.70,271.04 L249.20,271.01 L249.70,270.99 L250.20,270.97 L250.70,270.95 L251.20,270.93 L251.70,270.92 L252.20,270.90 L252.70,270.89 L253.20,270.88 L253.70,270.86 L254.20,270.85 L254.70,270.84 L255.20,270.83 L255.70,270.83 L256.20,270.82 L256.70,270.81 L257.20,270.81 L257.70,270.80 L258.20,270.80 L258.70,270.80 L259.20,270.79 L259.70,270.79 L260.20,270.79 L260.70,270.79 L261.20,270.79 L261.70,270.78 L262.20,270.78 L262.70,270.78 L263.20,270.78 L263.70,270.77 L264.20,270.77 L264.70,270.77 L265.20,270.77 L265.70,270.77 L266.20,270.76 L266.70,270.76 L267.20,270.76 L267.70,270.76 L268.20,270.76 L268.70,270.75 L269.20,270.75 L269.70,270.75 L270.20,270.75 L270.70,270.75 L271.20,270.75 L271.70,270.74 L272.20,270.74 L272.70,270.74 L273.20,270.74 L273.70,270.74 L274.20,270.74 L274.70,270.74 L275.20,270.73 L275.70,270.73 L276.20,270.73 L276.70,270.73 L277.20,270.73 L277.70,270.73 L278.20,270.73 L278.70,270.73 L279.20,270.72 L279.70,270.72 L1000.00,270.60" stroke="#0000ff" stroke-width="4" stroke-dasharray="5 4.8"/>
<path d="M111.20,618.00 L111.27,614.34 L111.34,610.67 L111.42,607.01 L111.49,603.35 L111.56,599.68 L111.63,596.02 L111.70,592.36 L111.76,588.69 L111.83,585.03 L111.90,581.36 L111.97,577.70 L112.03,574.04 L112.10,570.37 L112.16,566.71 L112.22,563.05 L112.29,559.38 L112.35,555.72 L112.41,552.06 L112.47,548.39 L112.53,544.73 L112.58,541.07 L112.64,537.40 L112.70,533.74 L112.75,530.08 L112.80,526.41 L112.85,522.75 L112.90,519.08 L112.96,515.42 L113.00,511.76 L113.05,508.09 L113.10,504.43 L113.15,500.77 L113.20,497.10 L113.24,493.44 L113.29,489.78 L113.33,486.11 L113.38,482.45 L113.43,478.79 L113.47,475.12 L113.52,471.46 L113.56,467.80 L113.61,464.13 L113.65,460.47 L113.70,456.81 L113.75,453.14 L113.79,449.48 L113.84,445.81 L113.89,442.15 L113.94,438.49 L113.99,434.82 L114.04,431.16 L114.09,427.50 L114.14,423.83 L114.20,420.17 L114.25,416.51 L114.31,412.84 L114.37,409.18 L114.42,405.52 L114.48,401.85 L114.54,398.19 L114.60,394.53 L114.66,390.86 L114.72,387.20 L114.79,383.53 L114.85,379.87 L114.91,376.21 L114.97,372.54 L115.03,368.88 L115.09,365.22 L115.16,361.55 L115.22,357.89 L115.28,354.23 L115.34,350.56 L115.39,346.90 L115.45,343.24 L115.51,339.57 L115.56,335.91 L115.62,332.25 L115.67,328.58 L115.73,324.92 L115.78,321.25 L115.84,317.59 L115.89,313.93 L115.95,310.26 L116.00,306.60 L116.05,302.94 L116.10,299.27 L116.16,295.61 L116.21,291.95 L116.26,288.28 L116.31,284.62 L116.36,280.96 L116.41,277.29 L116.45,273.63 L116.50,269.97 L116.55,266.30 L116.59,262.64 L116.63,258.97 L116.68,255.31 L116.72,251.65 L116.76,247.98 L116.80,244.32 L116.84,240.66 L116.88,236.99 L116.92,233.33 L116.96,229.67 L117.00,226.00 L117.04,222.34 L117.08,218.68 L117.12,215.01 L117.16,211.35 L117.20,207.69 L117.24,204.02 L117.28,200.36 L117.32,196.69 L117.36,193.03 L117.41,189.37 L117.45,185.70 L117.49,182.04 L117.53,178.38 L117.57,174.71 L117.61,171.05 L117.65,167.39 L117.69,163.72 L117.73,160.06 L117.77,156.40 L117.81,152.73 L117.85,149.07 L117.89,145.41 L117.93,141.74 L117.98,138.08 L118.02,134.42 L118.06,130.75 L118.11,127.09 L118.16,123.42 L118.21,119.76 L118.26,116.10 L118.31,112.43 L118.36,108.77 L118.42,105.11 L118.48,101.44 L118.54,97.78 L118.60,94.12 L118.67,90.45 L118.74,86.79 L118.82,83.13 L118.90,79.46 L118.98,75.80 L119.07,72.14 L119.17,68.47 L119.26,64.81 L119.37,61.14 L119.48,57.48 L119.60,53.82 L119.73,50.15 L119.88,46.49 L120.05,42.83 L120.27,39.16 L120.60,35.50 L120.93,38.33 L121.11,41.16 L121.25,43.99 L121.38,46.82 L121.51,49.65 L121.62,52.48 L121.72,55.31 L121.83,58.14 L121.94,60.97 L122.05,63.80 L122.16,66.63 L122.28,69.46 L122.39,72.29 L122.51,75.12 L122.62,77.95 L122.74,80.78 L122.85,83.61 L122.95,86.44 L123.06,89.27 L123.15,92.11 L123.25,94.94 L123.34,97.77 L123.42,100.60 L123.49,103.43 L123.57,106.26 L123.64,109.09 L123.72,111.92 L123.79,114.75 L123.86,117.58 L123.93,120.41 L123.99,123.24 L124.06,126.07 L124.12,128.90 L124.18,131.73 L124.24,134.56 L124.30,137.39 L124.36,140.22 L124.42,143.05 L124.48,145.88 L124.53,148.71 L124.59,151.54 L124.64,154.37 L124.70,157.20 L124.75,160.03 L124.80,162.86 L124.86,165.69 L124.91,168.52 L124.96,171.35 L125.01,174.18 L125.06,177.01 L125.11,179.84 L125.17,182.67 L125.22,185.50 L125.27,188.33 L125.32,191.16 L125.37,193.99 L125.42,196.82 L125.47,199.65 L125.52,202.48 L125.57,205.32 L125.62,208.15 L125.66,210.98 L125.71,213.81 L125.76,216.64 L125.80,219.47 L125.85,222.30 L125.89,225.13 L125.94,227.96 L125.98,230.79 L126.02,233.62 L126.07,236.45 L126.11,239.28 L126.16,242.11 L126.20,244.94 L126.25,247.77 L126.29,250.60 L126.33,253.43 L126.38,256.26 L126.42,259.09 L126.47,261.92 L126.51,264.75 L126.56,267.58 L126.61,270.41 L126.65,273.24 L126.70,276.07 L126.74,278.90 L126.79,281.73 L126.84,284.56 L126.88,287.39 L126.93,290.22 L126.98,293.05 L127.03,295.88 L127.08,298.71 L127.13,301.54 L127.18,304.37 L127.23,307.20 L127.28,310.03 L127.33,312.86 L127.39,315.69 L127.44,318.53 L127.49,321.36 L127.55,324.19 L127.61,327.02 L127.67,329.85 L127.73,332.68 L127.79,335.51 L127.86,338.34 L127.93,341.17 L128.00,344.00 L128.07,346.83 L128.15,349.66 L128.23,352.49 L128.32,355.32 L128.42,358.15 L128.54,360.98 L128.69,363.81 L128.89,366.64 L129.16,369.47 L129.60,372.30 L129.93,370.17 L130.20,368.04 L130.39,365.91 L130.56,363.78 L130.70,361.65 L130.83,359.52 L130.93,357.39 L131.03,355.26 L131.13,353.13 L131.21,351.00 L131.29,348.87 L131.37,346.74 L131.44,344.61 L131.51,342.47 L131.59,340.34 L131.66,338.21 L131.73,336.08 L131.80,333.95 L131.87,331.82 L131.94,329.69 L132.00,327.56 L132.07,325.43 L132.13,323.30 L132.19,321.17 L132.25,319.04 L132.31,316.91 L132.37,314.78 L132.43,312.65 L132.49,310.52 L132.56,308.39 L132.62,306.26 L132.68,304.13 L132.74,302.00 L132.80,299.87 L132.87,297.74 L132.93,295.61 L133.00,293.48 L133.06,291.35 L133.12,289.22 L133.19,287.08 L133.25,284.95 L133.32,282.82 L133.38,280.69 L133.44,278.56 L133.51,276.43 L133.57,274.30 L133.63,272.17 L133.70,270.04 L133.76,267.91 L133.83,265.78 L133.89,263.65 L133.95,261.52 L134.01,259.39 L134.07,257.26 L134.14,255.13 L134.20,253.00 L134.26,250.87 L134.33,248.74 L134.39,246.61 L134.46,244.48 L134.52,242.35 L134.59,240.22 L134.66,238.09 L134.73,235.96 L134.79,233.83 L134.86,231.69 L134.93,229.56 L135.00,227.43 L135.08,225.30 L135.16,223.17 L135.25,221.04 L135.35,218.91 L135.46,216.78 L135.58,214.65 L135.72,212.52 L135.87,210.39 L136.03,208.26 L136.26,206.13 L136.80,204.00 L137.44,206.17 L137.80,208.34 L138.06,210.52 L138.27,212.69 L138.45,214.86 L138.61,217.03 L138.75,219.21 L138.88,221.38 L139.01,223.55 L139.13,225.72 L139.24,227.90 L139.34,230.07 L139.44,232.24 L139.54,234.41 L139.64,236.59 L139.74,238.76 L139.84,240.93 L139.95,243.10 L140.05,245.28 L140.15,247.45 L140.25,249.62 L140.35,251.79 L140.45,253.97 L140.55,256.14 L140.65,258.31 L140.75,260.48 L140.88,262.66 L141.06,264.83 L141.30,267.00 L141.40,266.97 L141.51,266.86 L141.61,266.69 L141.71,266.45 L141.82,266.14 L141.92,265.78 L142.02,265.35 L142.12,264.88 L142.23,264.35 L142.33,263.78 L142.43,263.17 L142.54,262.52 L142.64,261.85 L142.74,261.16 L142.85,260.46 L142.95,259.75 L143.05,259.04 L143.16,258.34 L143.26,257.65 L143.36,256.98 L143.47,256.33 L143.57,255.72 L143.67,255.15 L143.78,254.62 L143.88,254.15 L143.98,253.72 L144.08,253.36 L144.19,253.05 L144.29,252.81 L144.39,252.64 L144.50,252.53 L144.60,252.50 L145.60,253.16 L146.60,253.78 L147.60,254.21 L148.60,254.38 L149.60,254.49 L150.60,254.59 L151.60,254.67 L152.60,254.73 L153.60,254.79 L154.60,254.84 L155.60,254.88 L156.60,254.92 L157.60,254.97 L158.60,255.02 L159.60,255.07 L160.60,255.14 L161.60,255.20 L162.60,255.27 L163.60,255.33 L164.60,255.40 L165.60,255.46 L166.60,255.53 L167.60,255.59 L168.60,255.66 L169.60,255.72 L170.60,255.78 L171.60,255.85 L172.60,255.91 L173.60,255.98 L174.60,256.04 L175.60,256.11 L176.60,256.17 L177.60,256.24 L178.60,256.31 L179.60,256.37 L180.60,256.44 L181.60,256.51 L182.60,256.57 L183.60,256.64 L184.60,256.71 L185.60,256.77 L186.60,256.84 L187.60,256.91 L188.60,256.97 L189.60,257.04 L190.60,257.11 L191.60,257.18 L192.60,257.25 L193.60,257.32 L194.60,257.39 L195.60,257.46 L196.60,257.54 L197.60,257.61 L198.60,257.69 L199.60,257.77 L200.60,257.85 L201.60,257.93 L202.60,258.01 L203.60,258.10 L204.60,258.18 L205.60,258.27 L206.60,258.36 L207.60,258.45 L208.60,258.54 L209.60,258.63 L210.60,258.73 L211.60,258.82 L212.60,258.92 L213.60,259.01 L214.60,259.11 L215.60,259.21 L216.60,259.31 L217.60,259.41 L218.60,259.51 L219.60,259.61 L220.60,259.71 L221.60,259.81 L222.60,259.92 L223.60,260.02 L224.60,260.13 L225.60,260.23 L226.60,260.33 L227.60,260.44 L228.60,260.55 L229.60,260.65 L230.60,260.76 L231.60,260.86 L232.60,260.97 L233.60,261.09 L234.60,261.20 L235.60,261.32 L236.60,261.44 L237.60,261.57 L238.60,261.69 L239.60,261.81 L240.60,261.94 L241.60,262.07 L242.60,262.19 L243.60,262.32 L244.60,262.44 L245.60,262.57 L246.60,262.69 L247.60,262.81 L248.60,262.92 L249.60,263.04 L250.60,263.15 L251.60,263.26 L252.60,263.37 L253.60,263.47 L254.60,263.56 L255.60,263.66 L256.60,263.75 L257.60,263.83 L258.60,263.92 L259.60,264.01 L260.60,264.09 L261.60,264.18 L262.60,264.26 L263.60,264.34 L264.60,264.42 L265.60,264.50 L266.60,264.57 L267.60,264.65 L268.60,264.72 L269.60,264.80 L270.60,264.87 L271.60,264.94 L272.60,265.01 L273.60,265.08 L274.60,265.15 L275.60,265.21 L276.60,265.28 L277.60,265.35 L278.60,265.41 L279.60,265.47 L280.60,265.54 L281.60,265.60 L282.60,265.66 L283.60,265.72 L284.60,265.79 L285.60,265.85 L286.60,265.91 L287.60,265.97 L288.60,266.03 L289.60,266.09 L290.60,266.15 L291.60,266.21 L292.60,266.26 L293.60,266.32 L294.60,266.38 L295.60,266.43 L296.60,266.49 L297.60,266.55 L298.60,266.60 L299.60,266.65 L300.60,266.71 L301.60,266.76 L302.60,266.81 L303.60,266.87 L304.60,266.92 L305.60,266.97 L306.60,267.02 L307.60,267.06 L308.60,267.11 L309.60,267.16 L310.60,267.21 L311.60,267.25 L312.60,267.30 L313.60,267.34 L314.60,267.38 L315.60,267.43 L316.60,267.47 L317.60,267.51 L318.60,267.55 L319.60,267.58 L320.60,267.62 L321.60,267.66 L322.60,267.70 L323.60,267.73 L324.60,267.77 L325.60,267.80 L326.60,267.84 L327.60,267.87 L328.60,267.90 L329.60,267.93 L330.60,267.97 L331.60,268.00 L332.60,268.03 L333.60,268.06 L334.60,268.09 L335.60,268.12 L336.60,268.15 L337.60,268.18 L338.60,268.20 L339.60,268.23 L340.60,268.26 L341.60,268.29 L342.60,268.31 L343.60,268.34 L344.60,268.36 L345.60,268.39 L346.60,268.42 L347.60,268.44 L348.60,268.47 L349.60,268.49 L350.60,268.51 L351.60,268.54 L352.60,268.56 L353.60,268.59 L354.60,268.61 L355.60,268.64 L356.60,268.66 L357.60,268.68 L358.60,268.71 L359.60,268.73 L360.60,268.76 L361.60,268.78 L362.60,268.80 L363.60,268.83 L364.60,268.85 L365.60,268.87 L366.60,268.90 L367.60,268.92 L368.60,268.94 L369.60,268.97 L370.60,268.99 L371.60,269.01 L372.60,269.03 L373.60,269.05 L374.60,269.08 L375.60,269.10 L376.60,269.12 L377.60,269.14 L378.60,269.16 L379.60,269.18 L380.60,269.20 L381.60,269.22 L382.60,269.24 L383.60,269.25 L384.60,269.27 L385.60,269.29 L386.60,269.31 L387.60,269.33 L388.60,269.34 L389.60,269.36 L390.60,269.37 L391.60,269.39 L392.60,269.40 L393.60,269.42 L394.60,269.43 L395.60,269.45 L396.60,269.46 L397.60,269.47 L398.60,269.48 L399.60,269.50 L400.60,269.51 L401.60,269.52 L402.60,269.53 L403.60,269.54 L404.60,269.55 L405.60,269.56 L406.60,269.57 L407.60,269.58 L408.60,269.59 L409.60,269.60 L410.60,269.61 L411.60,269.62 L412.60,269.63 L413.60,269.64 L414.60,269.65 L415.60,269.66 L416.60,269.67 L417.60,269.68 L418.60,269.69 L419.60,269.70 L420.60,269.71 L421.60,269.71 L422.60,269.72 L423.60,269.73 L424.60,269.74 L425.60,269.75 L426.60,269.76 L427.60,269.77 L428.60,269.77 L429.60,269.78 L430.60,269.79 L431.60,269.80 L432.60,269.81 L433.60,269.81 L434.60,269.82 L435.60,269.83 L436.60,269.84 L437.60,269.85 L438.60,269.85 L439.60,269.86 L440.60,269.87 L441.60,269.88 L442.60,269.88 L443.60,269.89 L444.60,269.90 L445.60,269.90 L446.60,269.91 L447.60,269.92 L448.60,269.92 L449.60,269.93 L450.60,269.94 L451.60,269.95 L452.60,269.95 L453.60,269.96 L454.60,269.96 L455.60,269.97 L456.60,269.98 L457.60,269.98 L458.60,269.99 L459.60,270.00 L460.60,270.00 L461.60,270.01 L462.60,270.01 L463.60,270.02 L464.60,270.03 L465.60,270.03 L466.60,270.04 L467.60,270.04 L468.60,270.05 L469.60,270.05 L470.60,270.06 L471.60,270.06 L472.60,270.07 L473.60,270.08 L474.60,270.08 L475.60,270.09 L476.60,270.09 L477.60,270.10 L478.60,270.10 L479.60,270.11 L480.60,270.11 L481.60,270.12 L482.60,270.12 L483.60,270.13 L484.60,270.13 L485.60,270.14 L486.60,270.14 L487.60,270.15 L488.60,270.15 L489.60,270.15 L490.60,270.16 L491.60,270.16 L492.60,270.17 L493.60,270.17 L494.60,270.18 L495.60,270.18 L496.60,270.19 L497.60,270.19 L498.60,270.19 L499.60,270.20 L500.60,270.20 L501.60,270.21 L502.60,270.21 L503.60,270.22 L504.60,270.22 L505.60,270.22 L506.60,270.23 L507.60,270.23 L508.60,270.24 L509.60,270.24 L510.60,270.24 L511.60,270.25 L512.60,270.25 L513.60,270.26 L514.60,270.26 L515.60,270.27 L516.60,270.27 L517.60,270.27 L518.60,270.28 L519.60,270.28 L520.60,270.29 L521.60,270.29 L522.60,270.29 L523.60,270.30 L524.60,270.30 L525.60,270.31 L526.60,270.31 L527.60,270.31 L528.60,270.32 L529.60,270.32 L530.60,270.33 L531.60,270.33 L532.60,270.33 L533.60,270.34 L534.60,270.34 L535.60,270.34 L536.60,270.35 L537.60,270.35 L538.60,270.36 L539.60,270.36 L540.60,270.36 L541.60,270.37 L542.60,270.37 L543.60,270.37 L544.60,270.38 L545.60,270.38 L546.60,270.38 L547.60,270.39 L548.60,270.39 L549.60,270.39 L550.60,270.40 L551.60,270.40 L552.60,270.40 L553.60,270.41 L554.60,270.41 L555.60,270.41 L556.60,270.42 L557.60,270.42 L558.60,270.42 L559.60,270.43 L560.60,270.43 L561.60,270.43 L562.60,270.43 L563.60,270.44 L564.60,270.44 L565.60,270.44 L566.60,270.44 L567.60,270.45 L568.60,270.45 L569.60,270.45 L570.60,270.45 L571.60,270.46 L572.60,270.46 L573.60,270.46 L574.60,270.46 L575.60,270.47 L576.60,270.47 L577.60,270.47 L578.60,270.47 L579.60,270.47 L580.60,270.48 L581.60,270.48 L582.60,270.48 L583.60,270.48 L584.60,270.48 L585.60,270.48 L586.60,270.49 L587.60,270.49 L588.60,270.49 L589.60,270.49 L590.60,270.49 L591.60,270.49 L592.60,270.49 L593.60,270.49 L594.60,270.50 L595.60,270.50 L596.60,270.50 L597.60,270.50 L598.60,270.50 L599.60,270.50 L1000.00,270.60" stroke="#ff0000" stroke-width="3.3"/>
<clipPath id="cp2"><rect x="330" y="250" width="670" height="40"/></clipPath>
<use href="#bp" clip-path="url(#cp2)" opacity="0.32"/>
</g>
<text class="t" x="99.6" y="19.90" text-anchor="end">0.15</text>
<text class="t" x="99.6" y="107.36" text-anchor="end">0.1</text>
<text class="t" x="99.6" y="194.22" text-anchor="end">0.05</text>
<text class="t" x="99.6" y="281.09" text-anchor="end">0</text>
<text class="t" x="99.6" y="368.75" text-anchor="end">-0.05</text>
<text class="t" x="99.6" y="456.21" text-anchor="end">-0.1</text>
<text class="t" x="99.6" y="543.28" text-anchor="end">-0.15</text>
<text class="t" x="99.6" y="630.34" text-anchor="end">-0.2</text>
<text class="t" x="99.6" y="717.20" text-anchor="end">-0.25</text>
<text class="t" x="111.20" y="744.9" text-anchor="middle">0</text>
<text class="t" x="200.08" y="744.9" text-anchor="middle">1</text>
<text class="t" x="288.96" y="744.9" text-anchor="middle">2</text>
<text class="t" x="377.84" y="744.9" text-anchor="middle">3</text>
<text class="t" x="466.72" y="744.9" text-anchor="middle">4</text>
<text class="t" x="555.60" y="744.9" text-anchor="middle">5</text>
<text class="t" x="644.48" y="744.9" text-anchor="middle">6</text>
<text class="t" x="733.36" y="744.9" text-anchor="middle">7</text>
<text class="t" x="822.24" y="744.9" text-anchor="middle">8</text>
<text class="t" x="911.12" y="744.9" text-anchor="middle">9</text>
<text class="t" x="1000.00" y="744.9" text-anchor="middle">10</text>
<text x="556.5" y="784.2" text-anchor="middle" style="font-size:29.5px;letter-spacing:0.25px">time(s)</text>
<text transform="translate(22.2,428.8) rotate(-90)" style="font-family:'Liberation Serif',serif;font-size:28.5px">e12</text>
<text transform="translate(22.2,342.4) rotate(-90)" style="font-family:'Liberation Serif',serif;font-size:28.5px">(rad)</text>
<rect x="454.7" y="32.2" width="523.7" height="107.2" fill="#fff" stroke="#262626" stroke-width="1.3"/>
<line x1="461.8" y1="51.6" x2="543.5" y2="51.6" stroke="#00ff00" stroke-width="3.6" stroke-dasharray="12.5 4.7 5 4.7"/>
<line x1="461.8" y1="86" x2="543.5" y2="86" stroke="#0000ff" stroke-width="4" stroke-dasharray="5 4.8"/>
<line x1="461.8" y1="120.2" x2="543.5" y2="120.2" stroke="#ff0000" stroke-width="3.4"/>
<text class="lg" x="549.4" y="61.75">linear sliding mode</text>
<text class="lg" x="549.4" y="94.5">non-singular fast terminal sliding mode</text>
<text class="lg" x="549.4" y="127.5">exponential fast terminal sliding mode</text>
</svg></div>
</body></html>
